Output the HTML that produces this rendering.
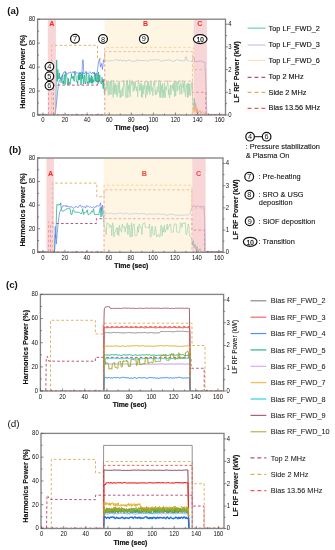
<!DOCTYPE html>
<html><head><meta charset="utf-8"><style>
html,body{margin:0;padding:0;background:#fff;}
svg{display:block;font-family:"Liberation Sans", sans-serif;filter:blur(0.45px);}
</style></head><body>
<svg width="335" height="550" viewBox="0 0 335 550">
<rect width="335" height="550" fill="#fff"/>
<polyline points="37.60,114.64 55.50,114.64 56.00,91.05 56.70,59.91 57.30,81.47 57.90,69.50 58.40,79.10 58.85,77.69 59.30,72.89 59.75,78.93 60.20,78.37 60.65,77.33 61.10,82.63 61.55,78.32 62.00,76.77 62.45,74.62 62.90,83.82 63.35,81.07 63.80,83.87 64.25,74.40 64.70,75.93 65.15,84.51 65.60,72.12 66.05,72.35 66.50,76.45 66.95,76.95 67.40,82.99 67.85,84.86 68.30,78.10 68.75,84.28 69.20,82.56 69.65,81.88 70.10,84.67 70.55,78.95 71.00,79.26 71.45,73.97 71.90,78.22 72.35,76.63 72.80,78.48 73.25,76.34 73.70,79.04 74.15,81.40 74.60,71.92 75.05,71.95 75.50,73.99 75.95,75.74 76.40,80.91 76.85,82.04 77.30,81.26 77.75,84.14 78.20,74.97 78.65,79.79 79.10,73.91 79.55,79.97 80.00,72.44 80.45,73.90 80.90,85.06 81.35,82.30 81.80,73.07 82.25,78.87 82.70,72.15 83.15,79.83 83.60,84.10 84.05,76.77 84.50,74.81 84.95,81.51 85.40,83.91 85.85,80.68 86.30,72.36 86.75,75.08 87.20,83.51 87.65,81.82 88.10,83.73 88.55,84.27 89.00,74.56 89.45,82.72 89.90,77.70 90.35,79.17 90.80,82.55 91.25,75.42 91.70,83.34 92.15,76.58 92.60,83.53 93.05,79.52 93.50,82.26 93.95,81.51 94.40,72.27 94.85,74.48 95.30,81.06 95.75,73.41 96.20,82.29 96.65,79.87 97.10,73.81 97.55,76.61 98.00,83.74 98.45,72.03 98.90,82.25 99.35,81.66 99.80,74.88 100.25,80.73 100.70,81.16 101.15,84.10 101.60,83.88 102.05,77.39 103.20,88.66 103.80,79.08 104.40,93.44 105.00,93.72 105.38,87.07 105.76,91.34 106.14,89.82 106.52,80.43 106.90,89.26 107.28,87.57 107.66,82.15 108.04,94.84 108.42,95.37 108.80,81.37 109.18,83.06 109.56,93.60 109.94,94.71 110.32,84.51 110.70,80.78 111.08,94.59 111.46,80.60 111.84,81.86 112.22,87.03 112.60,90.41 112.98,96.31 113.36,97.52 113.74,80.37 114.12,93.81 114.50,85.16 114.88,93.47 115.26,82.95 115.64,87.16 116.02,92.79 116.40,94.98 116.78,84.86 117.16,96.96 117.54,94.00 117.92,87.85 118.30,82.41 118.68,86.83 119.06,93.03 119.44,81.21 119.82,94.45 120.20,97.93 120.58,93.24 120.96,89.96 121.34,97.11 121.72,94.96 122.10,91.39 122.48,87.61 122.86,95.79 123.24,91.51 123.62,81.70 124.00,80.04 124.38,86.04 124.76,85.41 125.14,87.39 125.52,95.63 125.90,97.58 126.28,97.90 126.66,81.34 127.04,85.22 127.42,80.36 127.80,97.84 128.18,86.43 128.56,89.28 128.94,84.68 129.32,92.32 129.70,79.69 130.08,96.84 130.46,88.10 130.84,84.56 131.22,81.53 131.60,84.55 131.98,85.17 132.36,83.51 132.74,81.25 133.12,91.70 133.50,85.52 133.88,81.51 134.26,82.07 134.64,90.49 135.02,83.56 135.40,82.21 135.78,87.60 136.16,86.63 136.54,91.14 136.92,87.42 137.30,86.93 137.68,96.75 138.06,86.37 138.44,79.80 138.82,81.90 139.20,84.72 139.58,91.03 139.96,84.59 140.34,87.45 140.72,90.06 141.10,82.67 141.48,96.68 141.86,84.31 142.24,97.68 142.62,87.07 143.00,89.31 143.38,93.96 143.76,85.27 144.14,89.01 144.52,86.83 144.90,81.15 145.28,93.49 145.66,98.03 146.04,92.65 146.42,85.65 146.80,94.47 147.18,95.09 147.56,81.42 147.94,85.98 148.32,90.03 148.70,81.68 149.08,92.17 149.46,85.88 149.84,94.55 150.22,90.24 150.60,83.27 150.98,81.27 151.36,81.90 151.74,91.10 152.12,87.41 152.50,92.36 152.88,95.71 153.26,89.02 153.64,82.70 154.02,82.48 154.40,85.03 154.78,80.60 155.16,93.10 155.54,95.10 155.92,89.87 156.30,93.13 156.68,94.26 157.06,90.55 157.44,86.62 157.82,89.07 158.20,92.38 158.58,82.66 158.96,80.01 159.34,89.84 159.72,96.85 160.10,97.65 160.48,82.03 160.86,97.46 161.24,85.08 161.62,87.64 162.00,92.50 162.38,83.54 162.76,97.88 163.14,95.71 163.52,89.79 163.90,97.78 164.28,82.84 164.66,93.83 165.04,95.62 165.42,97.36 165.80,86.56 166.18,89.95 166.56,86.54 166.94,86.08 167.32,83.25 167.70,80.44 168.08,85.53 168.46,94.53 168.84,89.42 169.22,94.92 169.60,98.04 169.98,89.47 170.36,84.98 170.74,94.91 171.12,93.18 171.50,91.82 171.88,85.29 172.26,88.58 172.64,86.83 173.02,84.20 173.40,90.93 173.78,83.54 174.16,81.41 174.54,96.62 174.92,80.92 175.30,84.83 175.68,95.82 176.06,89.82 176.44,86.62 176.82,81.34 177.20,91.24 177.58,87.68 177.96,81.91 178.34,83.45 178.72,80.71 179.10,89.63 179.48,86.15 179.86,94.43 180.24,84.83 180.62,83.05 181.00,86.33 181.38,84.91 181.76,94.28 182.14,81.53 182.52,80.04 182.90,80.09 183.28,88.27 183.66,83.56 184.04,92.29 184.42,81.34 184.80,82.35 185.18,91.77 185.56,96.70 185.94,90.05 186.32,88.02 186.70,83.98 187.08,89.19 187.46,97.71 187.84,83.22 188.22,97.05 188.60,83.39 188.98,95.03 189.36,92.02 189.74,83.61 190.12,95.63 190.50,95.48 190.88,88.65 191.26,84.80 191.64,82.64 192.02,85.44 192.80,100.63 193.50,110.21 194.20,98.23 194.90,109.01 195.60,103.03 196.50,112.61 197.30,109.01 198.00,114.52 225.50,114.52" fill="none" stroke="#14a987" stroke-width="0.7" stroke-linejoin="round" />
<polyline points="37.60,114.40 55.00,114.40 56.50,103.03 58.20,86.26 59.20,81.47 61.00,77.88 63.00,74.28 64.00,71.81 64.60,72.34 65.20,71.35 65.80,73.23 66.40,73.98 67.00,73.54 67.60,73.96 68.20,72.96 68.80,72.61 69.40,72.74 70.00,71.89 70.60,72.20 71.20,73.09 71.80,73.43 72.40,72.30 73.00,71.47 73.60,72.95 74.20,72.00 74.80,71.09 75.40,71.82 76.00,72.12 76.60,73.36 77.20,73.15 77.80,73.12 78.40,72.80 79.00,74.27 79.60,72.45 80.20,72.66 80.80,73.12 81.40,72.24 82.00,72.40 82.60,59.91 83.20,59.91 83.80,73.87 84.40,73.44 85.00,73.55 85.60,72.05 86.20,71.25 86.80,72.65 87.40,72.90 88.00,74.05 88.60,73.85 89.20,72.64 89.80,71.67 90.40,72.30 91.00,73.14 91.60,74.01 92.20,73.30 92.80,71.99 93.40,73.50 94.00,72.53 94.60,74.12 95.20,74.59 95.80,74.77 96.40,73.56 97.00,73.88 97.50,69.50 98.50,62.31 99.50,58.72 100.50,67.10 101.50,63.51 102.50,69.50 103.50,59.91 104.50,62.31 105.50,60.74 106.00,60.44 106.50,61.09 107.00,60.44 107.50,61.07 108.00,60.77 108.50,61.03 109.00,61.24 109.50,60.83 110.00,60.77 110.50,60.84 111.00,60.81 111.50,60.62 112.00,61.09 112.50,61.26 113.00,60.68 113.50,60.38 114.00,60.40 114.50,59.91 115.00,60.04 115.50,59.72 116.00,60.53 116.50,60.15 117.00,59.85 117.50,59.55 118.00,60.32 118.50,60.71 119.00,59.95 119.50,60.67 120.00,59.82 120.50,59.56 121.00,60.61 121.50,60.97 122.00,60.39 122.50,60.82 123.00,61.30 123.50,60.39 124.00,60.57 124.50,60.09 125.00,60.89 125.50,60.85 126.00,60.39 126.50,61.20 127.00,61.32 127.50,60.64 128.00,59.93 128.50,59.49 129.00,60.60 129.50,60.55 130.00,60.13 130.50,60.32 131.00,60.13 131.50,60.80 132.00,61.33 132.50,61.53 133.00,61.74 133.50,61.05 134.00,60.76 134.50,60.53 135.00,61.07 135.50,61.28 136.00,61.36 136.50,60.41 137.00,59.70 137.50,59.44 138.00,60.61 138.50,61.24 139.00,60.18 139.50,60.40 140.00,60.05 140.50,60.55 141.00,60.58 141.50,60.52 142.00,60.63 142.50,60.41 143.00,61.22 143.50,60.55 144.00,60.00 144.50,60.75 145.00,60.70 145.50,60.24 146.00,60.52 146.50,60.99 147.00,61.27 147.50,60.87 148.00,61.45 148.50,60.37 149.00,59.97 149.50,59.92 150.00,59.66 150.50,59.88 151.00,60.35 151.50,60.28 152.00,60.39 152.50,59.70 153.00,59.63 153.50,60.45 154.00,59.84 154.50,59.80 155.00,59.72 155.50,59.63 156.00,60.22 156.50,59.75 157.00,59.54 157.50,59.72 158.00,59.70 158.50,59.70 159.00,60.25 159.50,60.04 160.00,60.94 160.50,60.97 161.00,60.79 161.50,61.42 162.00,61.19 162.50,60.64 163.00,60.38 163.50,60.86 164.00,60.00 164.50,60.00 165.00,60.51 165.50,60.26 166.00,60.28 166.50,60.35 167.00,60.60 167.50,59.78 168.00,59.93 168.50,59.91 169.00,59.80 169.50,59.41 170.00,60.71 170.50,60.43 171.00,60.10 171.50,60.69 172.00,60.75 172.50,61.33 173.00,61.40 173.50,61.15 174.00,61.46 174.50,61.37 175.00,60.31 175.50,60.33 176.00,60.41 176.50,59.74 177.00,60.02 177.50,59.50 178.00,59.79 178.50,59.67 179.00,60.75 179.50,60.48 180.00,60.09 180.50,61.01 181.00,60.09 181.50,60.83 182.00,60.72 182.50,61.13 183.00,60.83 183.50,60.50 184.00,61.19 184.50,60.16 185.00,60.46 185.50,56.92 186.00,56.92 186.50,56.92 187.00,60.91 187.50,60.47 188.00,60.40 188.50,60.79 189.00,60.32 189.50,60.73 190.00,61.38 190.50,61.34 191.00,61.64 191.50,61.61 192.00,60.67 192.50,60.76 193.00,56.92 193.50,56.92 194.00,56.92 194.50,61.14 195.00,60.73 195.50,61.89 196.00,61.17 196.50,61.55 197.00,61.67 197.50,60.95 198.00,61.73 198.50,61.68 199.00,61.02 199.50,61.02 200.00,61.41 200.50,60.82 201.00,60.77 201.50,61.08 202.00,61.99 202.50,61.66 203.00,61.75 203.50,62.19 204.00,62.65 204.50,62.14 205.00,62.51 206.20,91.05 206.80,114.40 225.50,114.40" fill="none" stroke="#5b79f0" stroke-width="0.7" stroke-linejoin="round" />
<polyline points="192.00,114.52 193.20,107.81 194.00,112.61 195.00,105.42 196.00,111.41 197.00,107.81 198.50,112.61 200.00,110.21 201.00,113.80 202.00,111.41 204.00,113.20 206.00,114.52" fill="none" stroke="#f09a30" stroke-width="0.9" stroke-linejoin="round" />
<polyline points="37.60,114.52 51.60,114.52 51.60,45.31 97.50,45.31 97.50,58.96 104.60,58.96 104.60,47.40 193.30,47.40 193.30,69.60 205.80,69.60 205.80,114.52 225.50,114.52" fill="none" stroke="#e0b058" stroke-width="0.95" stroke-linejoin="round" stroke-dasharray="2.6,2.2" stroke-linecap="butt"/>
<polyline points="53.40,114.52 53.40,85.10 97.50,85.10 97.50,81.20 192.40,81.20 192.40,92.30 205.80,92.30 205.80,114.52" fill="none" stroke="#bb4a78" stroke-width="0.95" stroke-linejoin="round" stroke-dasharray="2.6,2.2" stroke-linecap="butt"/>
<polyline points="48.50,114.52 48.50,82.67" fill="none" stroke="#f45656" stroke-width="0.95" stroke-linejoin="round" stroke-dasharray="2.6,2.2" stroke-linecap="butt"/>
<polyline points="37.60,114.64 104.90,114.64 104.90,51.60 192.40,51.60 192.40,114.64 225.50,114.64" fill="none" stroke="#f45656" stroke-width="0.95" stroke-linejoin="round" stroke-dasharray="2.6,2.2" stroke-linecap="butt"/>
<rect x="47.80" y="19.20" width="8.10" height="95.80" fill="#f3b9bb" opacity="0.6"/>
<rect x="104.60" y="19.20" width="89.20" height="95.80" fill="#fdf0cf" opacity="0.6"/>
<rect x="193.80" y="19.20" width="13.10" height="95.80" fill="#f3b9bb" opacity="0.6"/>
<text x="51.90" y="25.90" font-size="7.0" text-anchor="middle" font-weight="bold" fill="#f52525" >A</text>
<text x="145.60" y="25.90" font-size="7.0" text-anchor="middle" font-weight="bold" fill="#f52525" >B</text>
<text x="199.80" y="25.90" font-size="7.0" text-anchor="middle" font-weight="bold" fill="#f52525" >C</text>
<rect x="37.60" y="19.20" width="187.90" height="95.80" fill="none" stroke="#858585" stroke-width="1.35"/>
<line x1="37.60" y1="115.00" x2="40.10" y2="115.00" stroke="#444" stroke-width="0.6" />
<text transform="translate(35.30,116.80) scale(0.86,1)" x="0" y="0" font-size="6.9" text-anchor="end" fill="#111">0</text>
<line x1="37.60" y1="103.03" x2="39.10" y2="103.03" stroke="#444" stroke-width="0.6" />
<line x1="37.60" y1="91.05" x2="40.10" y2="91.05" stroke="#444" stroke-width="0.6" />
<text transform="translate(35.30,92.85) scale(0.86,1)" x="0" y="0" font-size="6.9" text-anchor="end" fill="#111">20</text>
<line x1="37.60" y1="79.08" x2="39.10" y2="79.08" stroke="#444" stroke-width="0.6" />
<line x1="37.60" y1="67.10" x2="40.10" y2="67.10" stroke="#444" stroke-width="0.6" />
<text transform="translate(35.30,68.90) scale(0.86,1)" x="0" y="0" font-size="6.9" text-anchor="end" fill="#111">40</text>
<line x1="37.60" y1="55.12" x2="39.10" y2="55.12" stroke="#444" stroke-width="0.6" />
<line x1="37.60" y1="43.15" x2="40.10" y2="43.15" stroke="#444" stroke-width="0.6" />
<text transform="translate(35.30,44.95) scale(0.86,1)" x="0" y="0" font-size="6.9" text-anchor="end" fill="#111">60</text>
<line x1="37.60" y1="31.17" x2="39.10" y2="31.17" stroke="#444" stroke-width="0.6" />
<line x1="37.60" y1="19.20" x2="40.10" y2="19.20" stroke="#444" stroke-width="0.6" />
<text transform="translate(35.30,21.00) scale(0.86,1)" x="0" y="0" font-size="6.9" text-anchor="end" fill="#111">80</text>
<line x1="43.00" y1="115.00" x2="43.00" y2="112.50" stroke="#444" stroke-width="0.6" />
<text transform="translate(43.00,121.60) scale(0.86,1)" x="0" y="0" font-size="6.9" text-anchor="middle" fill="#111">0</text>
<line x1="54.04" y1="115.00" x2="54.04" y2="113.50" stroke="#444" stroke-width="0.6" />
<line x1="65.08" y1="115.00" x2="65.08" y2="112.50" stroke="#444" stroke-width="0.6" />
<text transform="translate(65.08,121.60) scale(0.86,1)" x="0" y="0" font-size="6.9" text-anchor="middle" fill="#111">20</text>
<line x1="76.12" y1="115.00" x2="76.12" y2="113.50" stroke="#444" stroke-width="0.6" />
<line x1="87.16" y1="115.00" x2="87.16" y2="112.50" stroke="#444" stroke-width="0.6" />
<text transform="translate(87.16,121.60) scale(0.86,1)" x="0" y="0" font-size="6.9" text-anchor="middle" fill="#111">40</text>
<line x1="98.20" y1="115.00" x2="98.20" y2="113.50" stroke="#444" stroke-width="0.6" />
<line x1="109.24" y1="115.00" x2="109.24" y2="112.50" stroke="#444" stroke-width="0.6" />
<text transform="translate(109.24,121.60) scale(0.86,1)" x="0" y="0" font-size="6.9" text-anchor="middle" fill="#111">60</text>
<line x1="120.28" y1="115.00" x2="120.28" y2="113.50" stroke="#444" stroke-width="0.6" />
<line x1="131.32" y1="115.00" x2="131.32" y2="112.50" stroke="#444" stroke-width="0.6" />
<text transform="translate(131.32,121.60) scale(0.86,1)" x="0" y="0" font-size="6.9" text-anchor="middle" fill="#111">80</text>
<line x1="142.36" y1="115.00" x2="142.36" y2="113.50" stroke="#444" stroke-width="0.6" />
<line x1="153.40" y1="115.00" x2="153.40" y2="112.50" stroke="#444" stroke-width="0.6" />
<text transform="translate(153.40,121.60) scale(0.86,1)" x="0" y="0" font-size="6.9" text-anchor="middle" fill="#111">100</text>
<line x1="164.44" y1="115.00" x2="164.44" y2="113.50" stroke="#444" stroke-width="0.6" />
<line x1="175.48" y1="115.00" x2="175.48" y2="112.50" stroke="#444" stroke-width="0.6" />
<text transform="translate(175.48,121.60) scale(0.86,1)" x="0" y="0" font-size="6.9" text-anchor="middle" fill="#111">120</text>
<line x1="186.52" y1="115.00" x2="186.52" y2="113.50" stroke="#444" stroke-width="0.6" />
<line x1="197.56" y1="115.00" x2="197.56" y2="112.50" stroke="#444" stroke-width="0.6" />
<text transform="translate(197.56,121.60) scale(0.86,1)" x="0" y="0" font-size="6.9" text-anchor="middle" fill="#111">140</text>
<line x1="208.60" y1="115.00" x2="208.60" y2="113.50" stroke="#444" stroke-width="0.6" />
<line x1="219.64" y1="115.00" x2="219.64" y2="112.50" stroke="#444" stroke-width="0.6" />
<text transform="translate(219.64,121.60) scale(0.86,1)" x="0" y="0" font-size="6.9" text-anchor="middle" fill="#111">160</text>
<line x1="225.50" y1="115.00" x2="228.00" y2="115.00" stroke="#444" stroke-width="0.6" />
<text transform="translate(228.30,116.90) scale(0.86,1)" x="0" y="0" font-size="6.9" text-anchor="start" fill="#111">0</text>
<line x1="225.50" y1="103.65" x2="227.00" y2="103.65" stroke="#444" stroke-width="0.6" />
<line x1="225.50" y1="92.30" x2="228.00" y2="92.30" stroke="#444" stroke-width="0.6" />
<text transform="translate(228.30,94.20) scale(0.86,1)" x="0" y="0" font-size="6.9" text-anchor="start" fill="#111">1</text>
<line x1="225.50" y1="80.95" x2="227.00" y2="80.95" stroke="#444" stroke-width="0.6" />
<line x1="225.50" y1="69.60" x2="228.00" y2="69.60" stroke="#444" stroke-width="0.6" />
<text transform="translate(228.30,71.50) scale(0.86,1)" x="0" y="0" font-size="6.9" text-anchor="start" fill="#111">2</text>
<line x1="225.50" y1="58.25" x2="227.00" y2="58.25" stroke="#444" stroke-width="0.6" />
<line x1="225.50" y1="46.90" x2="228.00" y2="46.90" stroke="#444" stroke-width="0.6" />
<text transform="translate(228.30,48.80) scale(0.86,1)" x="0" y="0" font-size="6.9" text-anchor="start" fill="#111">3</text>
<line x1="225.50" y1="35.55" x2="227.00" y2="35.55" stroke="#444" stroke-width="0.6" />
<line x1="225.50" y1="24.20" x2="228.00" y2="24.20" stroke="#444" stroke-width="0.6" />
<text transform="translate(228.30,26.10) scale(0.86,1)" x="0" y="0" font-size="6.9" text-anchor="start" fill="#111">4</text>
<text x="7.30" y="13.50" font-size="9.6" text-anchor="start" font-weight="bold" fill="#111" >(a)</text>
<text x="22.5" y="71.75" font-size="7.2" font-weight="bold" text-anchor="middle" fill="#111" stroke="#111" stroke-width="0.15" transform="rotate(-90 22.5 71.75)" dominant-baseline="central">Harmonics Power (%)</text>
<text x="236.5" y="71.90" font-size="7.2" font-weight="bold" text-anchor="middle" fill="#111" stroke="#111" stroke-width="0.15" transform="rotate(-90 236.5 71.90)" dominant-baseline="central">LF RF Power (kW)</text>
<text x="131.60" y="129.80" font-size="6.9" text-anchor="middle" font-weight="bold" fill="#111" stroke="#111" stroke-width="0.2">Time (sec)</text>
<circle cx="75.00" cy="38.80" r="4.4" fill="#fff" stroke="#111" stroke-width="1.2"/>
<text x="75.00" y="41.30" font-size="7.4" text-anchor="middle" font-weight="normal" fill="#111" >7</text>
<circle cx="103.00" cy="39.00" r="4.4" fill="#fff" stroke="#111" stroke-width="1.2"/>
<text x="103.00" y="41.50" font-size="7.4" text-anchor="middle" font-weight="normal" fill="#111" >8</text>
<circle cx="143.90" cy="38.90" r="4.4" fill="#fff" stroke="#111" stroke-width="1.2"/>
<text x="143.90" y="41.40" font-size="7.4" text-anchor="middle" font-weight="normal" fill="#111" >9</text>
<ellipse cx="200.20" cy="39.10" rx="6.8" ry="4.5" fill="#fff" stroke="#111" stroke-width="1.2"/>
<text x="200.30" y="41.80" font-size="7.6" text-anchor="middle" font-weight="normal" fill="#111" stroke="#111" stroke-width="0.25" textLength="7.0" lengthAdjust="spacingAndGlyphs">10</text>
<circle cx="49.40" cy="66.60" r="4.3" fill="#fff" stroke="#111" stroke-width="1.2"/>
<text x="49.40" y="69.10" font-size="7.4" text-anchor="middle" font-weight="normal" fill="#111" >4</text>
<circle cx="49.40" cy="76.20" r="4.3" fill="#fff" stroke="#111" stroke-width="1.2"/>
<text x="49.40" y="78.70" font-size="7.4" text-anchor="middle" font-weight="normal" fill="#111" >5</text>
<circle cx="49.40" cy="85.60" r="4.3" fill="#fff" stroke="#111" stroke-width="1.2"/>
<text x="49.40" y="88.10" font-size="7.4" text-anchor="middle" font-weight="normal" fill="#111" >6</text>
<polyline points="37.60,251.95 54.50,251.95 55.20,234.62 55.90,238.16 56.40,216.94 56.80,204.56 58.50,205.15 59.20,203.97 60.00,205.15 60.80,202.79 61.30,209.87 62.00,211.04 62.90,211.04 63.80,211.04 64.70,209.87 65.60,209.87 66.50,208.69 67.40,208.69 68.30,208.69 69.20,208.69 70.10,208.69 71.00,214.58 71.90,214.58 72.80,209.87 73.70,209.87 74.60,212.22 75.50,212.22 76.40,212.22 77.30,212.22 78.20,212.22 79.10,212.22 80.00,213.40 80.90,213.40 81.80,213.40 82.70,208.69 83.60,214.58 84.50,212.22 85.40,212.22 86.30,212.22 87.20,209.87 88.10,214.58 89.00,214.58 89.90,213.40 90.80,213.40 91.70,211.04 92.60,212.22 93.50,208.69 94.40,214.58 95.30,214.58 96.20,214.58 97.10,214.58 98.00,214.58 98.90,214.58 100.30,207.51 101.00,216.94 101.80,207.51 102.50,214.58 103.60,216.94 104.30,226.37 105.00,228.73 105.50,229.90 106.20,234.62 106.90,222.83 107.60,224.01 108.30,224.01 109.00,224.01 109.70,227.55 110.40,225.19 111.10,225.19 111.80,235.80 112.50,222.83 113.20,225.19 113.90,236.98 114.60,232.26 115.30,232.26 116.00,229.90 116.70,227.55 117.40,234.62 118.10,227.55 118.80,235.80 119.50,225.19 120.20,229.90 120.90,229.90 121.60,232.26 122.30,224.01 123.00,227.55 123.70,227.55 124.40,226.37 125.10,232.26 125.80,227.55 126.50,227.55 127.20,222.83 127.90,234.62 128.60,225.19 129.30,225.19 130.00,236.98 130.70,236.98 131.40,222.83 132.10,236.98 132.80,226.37 133.50,224.01 134.20,224.01 134.90,235.80 135.60,235.80 136.30,235.80 137.00,234.62 137.70,226.37 138.40,232.26 139.10,224.01 139.80,225.19 140.50,227.55 141.20,227.55 141.90,234.62 142.60,224.01 143.30,224.01 144.00,222.83 144.70,222.83 145.40,227.55 146.10,227.55 146.80,227.55 147.50,227.55 148.20,227.55 148.90,227.55 149.60,224.01 150.30,236.98 151.00,236.98 151.70,226.37 152.40,226.37 153.10,234.62 153.80,234.62 154.50,234.62 155.20,226.37 155.90,229.90 156.60,236.98 157.30,235.80 158.00,234.62 158.70,234.62 159.40,236.98 160.10,236.98 160.80,225.19 161.50,225.19 162.20,235.80 162.90,227.55 163.60,232.26 164.30,225.19 165.00,232.26 165.70,229.90 166.40,229.90 167.10,224.01 167.80,229.90 168.50,226.37 169.20,226.37 169.90,224.01 170.60,224.01 171.30,232.26 172.00,232.26 172.70,232.26 173.40,232.26 174.10,224.01 174.80,224.01 175.50,224.01 176.20,224.01 176.90,232.26 177.60,232.26 178.30,232.26 179.00,232.26 179.70,232.26 180.40,222.83 181.10,222.83 181.80,227.55 182.50,224.01 183.20,222.83 183.90,224.01 184.60,222.83 185.30,222.83 186.00,234.62 186.70,234.62 187.40,229.90 188.10,224.01 188.80,225.19 189.50,235.80 190.20,235.80 191.50,238.16 192.30,245.23 193.20,240.51 194.00,247.59 195.00,244.05 196.00,249.94 197.00,246.41 198.50,251.12 200.00,248.76 201.00,251.83 223.00,251.83" fill="none" stroke="#14a987" stroke-width="0.7" stroke-linejoin="round" />
<polyline points="37.60,251.71 54.60,251.71 55.20,226.37 55.80,235.80 56.30,244.05 57.20,233.44 58.30,221.65 59.60,212.22 61.50,208.69 62.50,206.32 63.20,205.41 63.90,206.43 64.60,205.66 65.30,206.26 66.00,205.20 66.70,206.90 67.40,205.85 68.10,206.96 68.80,206.68 69.50,206.56 70.20,207.53 70.90,206.20 71.60,206.88 72.30,207.29 73.00,208.20 73.70,208.10 74.40,207.58 75.10,206.56 75.80,206.96 76.50,206.27 77.20,207.50 77.90,207.43 78.60,207.19 79.30,205.62 80.00,205.06 80.70,205.23 81.40,207.14 82.10,207.26 82.80,206.39 83.50,207.20 84.20,206.76 84.90,206.80 85.60,208.09 86.30,206.09 87.00,205.43 87.70,206.72 88.40,206.33 89.10,207.01 89.80,207.19 90.50,206.82 91.20,207.29 91.90,207.46 92.60,207.41 93.30,206.60 94.00,207.27 94.70,207.84 95.40,206.67 96.10,207.11 96.80,205.63 97.50,205.83 98.20,205.49 98.90,206.40 99.60,205.54 100.50,202.79 101.50,209.87 102.50,205.15 103.50,213.40 104.50,215.76 105.50,212.22 106.50,213.66 107.20,213.86 107.90,214.02 108.60,213.42 109.30,213.09 110.00,213.56 110.70,213.54 111.40,213.02 112.10,213.06 112.80,213.68 113.50,213.84 114.20,214.01 114.90,214.14 115.60,213.88 116.30,214.15 117.00,213.30 117.70,213.46 118.40,213.45 119.10,213.29 119.80,213.08 120.50,212.92 121.20,213.36 121.90,213.65 122.60,213.71 123.30,214.21 124.00,214.02 124.70,213.58 125.40,213.03 126.10,212.99 126.80,213.13 127.50,213.27 128.20,214.05 128.90,214.07 129.60,214.08 130.30,213.73 131.00,214.20 131.70,214.13 132.40,213.94 133.10,213.53 133.80,213.29 134.50,213.43 135.20,214.04 135.90,213.64 136.60,213.28 137.30,213.53 138.00,213.89 138.70,213.91 139.40,214.35 140.10,213.90 140.80,213.36 141.50,213.66 142.20,213.58 142.90,213.40 143.60,214.08 144.30,213.54 145.00,213.65 145.70,214.22 146.40,214.65 147.10,214.69 147.80,214.32 148.50,214.00 149.20,214.28 149.90,213.73 150.60,214.12 151.30,214.21 152.00,214.66 152.70,213.89 153.40,214.51 154.10,213.91 154.80,214.05 155.50,214.11 156.20,214.14 156.90,214.52 157.60,213.95 158.30,213.58 159.00,213.61 159.70,213.89 160.40,214.60 161.10,214.13 161.80,214.54 162.50,214.03 163.20,214.56 163.90,214.44 164.60,214.09 165.30,214.68 166.00,214.56 166.70,215.06 167.40,215.37 168.10,215.36 168.80,214.41 169.50,214.00 170.20,214.13 170.90,214.62 171.60,214.44 172.30,214.29 173.00,214.63 173.70,214.57 174.40,214.29 175.10,215.09 175.80,215.28 176.50,215.07 177.20,215.36 177.90,215.22 178.60,214.94 179.30,215.28 180.00,215.05 180.70,215.24 181.40,214.99 182.10,215.15 182.80,214.87 183.50,215.45 184.20,215.00 184.90,215.41 185.60,214.66 186.30,214.71 187.00,214.90 187.70,215.07 188.40,214.92 190.00,213.40 191.00,209.87 192.00,206.92 193.00,205.74 194.00,206.30 194.70,206.20 195.40,206.21 196.10,206.58 196.80,205.86 197.50,206.09 198.20,206.06 198.90,206.69 199.60,206.66 200.30,206.47 201.00,205.99 201.70,206.53 202.40,206.53 203.10,206.66 203.80,205.99 204.60,216.94 205.10,251.71 223.00,251.71" fill="none" stroke="#5b79f0" stroke-width="0.7" stroke-linejoin="round" />
<polyline points="37.60,251.83 52.40,251.83 52.40,183.10 96.80,183.10 96.80,196.70 104.20,196.70 104.20,185.20 191.80,185.20 191.80,207.90 204.50,207.90 204.50,251.83 223.00,251.83" fill="none" stroke="#e0b058" stroke-width="0.95" stroke-linejoin="round" stroke-dasharray="2.6,2.2" stroke-linecap="butt"/>
<polyline points="50.60,251.83 50.60,226.37 52.00,222.83 54.60,223.50 96.40,223.50 96.40,218.70 191.80,218.70 191.80,230.10 204.50,230.10 204.50,251.83" fill="none" stroke="#bb4a78" stroke-width="0.95" stroke-linejoin="round" stroke-dasharray="2.6,2.2" stroke-linecap="butt"/>
<polyline points="48.60,251.83 48.60,221.65" fill="none" stroke="#f45656" stroke-width="0.95" stroke-linejoin="round" stroke-dasharray="2.6,2.2" stroke-linecap="butt"/>
<polyline points="37.60,251.95 104.20,251.95 104.20,189.80 191.80,189.80 191.80,251.95 223.00,251.95" fill="none" stroke="#f45656" stroke-width="0.95" stroke-linejoin="round" stroke-dasharray="2.6,2.2" stroke-linecap="butt"/>
<rect x="46.50" y="158.00" width="7.50" height="94.30" fill="#f3b9bb" opacity="0.6"/>
<rect x="103.60" y="158.00" width="88.70" height="94.30" fill="#fdf0cf" opacity="0.6"/>
<rect x="192.30" y="158.00" width="13.30" height="94.30" fill="#f3b9bb" opacity="0.6"/>
<text x="50.60" y="176.40" font-size="7.2" text-anchor="middle" font-weight="bold" fill="#f52525" >A</text>
<text x="144.30" y="176.40" font-size="7.2" text-anchor="middle" font-weight="bold" fill="#f04545" >B</text>
<text x="198.50" y="176.40" font-size="7.2" text-anchor="middle" font-weight="bold" fill="#f04545" >C</text>
<rect x="37.60" y="158.00" width="185.40" height="94.30" fill="none" stroke="#858585" stroke-width="1.35"/>
<line x1="37.60" y1="252.30" x2="40.10" y2="252.30" stroke="#444" stroke-width="0.6" />
<text transform="translate(35.30,254.10) scale(0.86,1)" x="0" y="0" font-size="6.9" text-anchor="end" fill="#111">0</text>
<line x1="37.60" y1="240.51" x2="39.10" y2="240.51" stroke="#444" stroke-width="0.6" />
<line x1="37.60" y1="228.73" x2="40.10" y2="228.73" stroke="#444" stroke-width="0.6" />
<text transform="translate(35.30,230.53) scale(0.86,1)" x="0" y="0" font-size="6.9" text-anchor="end" fill="#111">20</text>
<line x1="37.60" y1="216.94" x2="39.10" y2="216.94" stroke="#444" stroke-width="0.6" />
<line x1="37.60" y1="205.15" x2="40.10" y2="205.15" stroke="#444" stroke-width="0.6" />
<text transform="translate(35.30,206.95) scale(0.86,1)" x="0" y="0" font-size="6.9" text-anchor="end" fill="#111">40</text>
<line x1="37.60" y1="193.36" x2="39.10" y2="193.36" stroke="#444" stroke-width="0.6" />
<line x1="37.60" y1="181.57" x2="40.10" y2="181.57" stroke="#444" stroke-width="0.6" />
<text transform="translate(35.30,183.38) scale(0.86,1)" x="0" y="0" font-size="6.9" text-anchor="end" fill="#111">60</text>
<line x1="37.60" y1="169.79" x2="39.10" y2="169.79" stroke="#444" stroke-width="0.6" />
<line x1="37.60" y1="158.00" x2="40.10" y2="158.00" stroke="#444" stroke-width="0.6" />
<text transform="translate(35.30,159.80) scale(0.86,1)" x="0" y="0" font-size="6.9" text-anchor="end" fill="#111">80</text>
<line x1="42.90" y1="252.30" x2="42.90" y2="249.80" stroke="#444" stroke-width="0.6" />
<text transform="translate(42.90,260.00) scale(0.86,1)" x="0" y="0" font-size="6.9" text-anchor="middle" fill="#111">0</text>
<line x1="53.90" y1="252.30" x2="53.90" y2="250.80" stroke="#444" stroke-width="0.6" />
<line x1="64.90" y1="252.30" x2="64.90" y2="249.80" stroke="#444" stroke-width="0.6" />
<text transform="translate(64.90,260.00) scale(0.86,1)" x="0" y="0" font-size="6.9" text-anchor="middle" fill="#111">20</text>
<line x1="75.90" y1="252.30" x2="75.90" y2="250.80" stroke="#444" stroke-width="0.6" />
<line x1="86.90" y1="252.30" x2="86.90" y2="249.80" stroke="#444" stroke-width="0.6" />
<text transform="translate(86.90,260.00) scale(0.86,1)" x="0" y="0" font-size="6.9" text-anchor="middle" fill="#111">40</text>
<line x1="97.90" y1="252.30" x2="97.90" y2="250.80" stroke="#444" stroke-width="0.6" />
<line x1="108.90" y1="252.30" x2="108.90" y2="249.80" stroke="#444" stroke-width="0.6" />
<text transform="translate(108.90,260.00) scale(0.86,1)" x="0" y="0" font-size="6.9" text-anchor="middle" fill="#111">60</text>
<line x1="119.90" y1="252.30" x2="119.90" y2="250.80" stroke="#444" stroke-width="0.6" />
<line x1="130.90" y1="252.30" x2="130.90" y2="249.80" stroke="#444" stroke-width="0.6" />
<text transform="translate(130.90,260.00) scale(0.86,1)" x="0" y="0" font-size="6.9" text-anchor="middle" fill="#111">80</text>
<line x1="141.90" y1="252.30" x2="141.90" y2="250.80" stroke="#444" stroke-width="0.6" />
<line x1="152.90" y1="252.30" x2="152.90" y2="249.80" stroke="#444" stroke-width="0.6" />
<text transform="translate(152.90,260.00) scale(0.86,1)" x="0" y="0" font-size="6.9" text-anchor="middle" fill="#111">100</text>
<line x1="163.90" y1="252.30" x2="163.90" y2="250.80" stroke="#444" stroke-width="0.6" />
<line x1="174.90" y1="252.30" x2="174.90" y2="249.80" stroke="#444" stroke-width="0.6" />
<text transform="translate(174.90,260.00) scale(0.86,1)" x="0" y="0" font-size="6.9" text-anchor="middle" fill="#111">120</text>
<line x1="185.90" y1="252.30" x2="185.90" y2="250.80" stroke="#444" stroke-width="0.6" />
<line x1="196.90" y1="252.30" x2="196.90" y2="249.80" stroke="#444" stroke-width="0.6" />
<text transform="translate(196.90,260.00) scale(0.86,1)" x="0" y="0" font-size="6.9" text-anchor="middle" fill="#111">140</text>
<line x1="207.90" y1="252.30" x2="207.90" y2="250.80" stroke="#444" stroke-width="0.6" />
<line x1="218.90" y1="252.30" x2="218.90" y2="249.80" stroke="#444" stroke-width="0.6" />
<text transform="translate(218.90,260.00) scale(0.86,1)" x="0" y="0" font-size="6.9" text-anchor="middle" fill="#111">160</text>
<line x1="223.00" y1="252.30" x2="225.50" y2="252.30" stroke="#444" stroke-width="0.6" />
<text transform="translate(225.80,254.20) scale(0.86,1)" x="0" y="0" font-size="6.9" text-anchor="start" fill="#111">0</text>
<line x1="223.00" y1="241.20" x2="224.50" y2="241.20" stroke="#444" stroke-width="0.6" />
<line x1="223.00" y1="230.10" x2="225.50" y2="230.10" stroke="#444" stroke-width="0.6" />
<text transform="translate(225.80,232.00) scale(0.86,1)" x="0" y="0" font-size="6.9" text-anchor="start" fill="#111">1</text>
<line x1="223.00" y1="219.00" x2="224.50" y2="219.00" stroke="#444" stroke-width="0.6" />
<line x1="223.00" y1="207.90" x2="225.50" y2="207.90" stroke="#444" stroke-width="0.6" />
<text transform="translate(225.80,209.80) scale(0.86,1)" x="0" y="0" font-size="6.9" text-anchor="start" fill="#111">2</text>
<line x1="223.00" y1="196.80" x2="224.50" y2="196.80" stroke="#444" stroke-width="0.6" />
<line x1="223.00" y1="185.70" x2="225.50" y2="185.70" stroke="#444" stroke-width="0.6" />
<text transform="translate(225.80,187.60) scale(0.86,1)" x="0" y="0" font-size="6.9" text-anchor="start" fill="#111">3</text>
<line x1="223.00" y1="174.60" x2="224.50" y2="174.60" stroke="#444" stroke-width="0.6" />
<line x1="223.00" y1="163.50" x2="225.50" y2="163.50" stroke="#444" stroke-width="0.6" />
<text transform="translate(225.80,165.40) scale(0.86,1)" x="0" y="0" font-size="6.9" text-anchor="start" fill="#111">4</text>
<text x="9.00" y="152.80" font-size="9.6" text-anchor="start" font-weight="bold" fill="#111" >(b)</text>
<text x="22.65" y="209.85" font-size="7.15" font-weight="bold" text-anchor="middle" fill="#111" stroke="#111" stroke-width="0.15" transform="rotate(-90 22.65 209.85)" dominant-baseline="central">Harmonics Power (%)</text>
<text x="235.05" y="209.50" font-size="7.05" font-weight="bold" text-anchor="middle" fill="#111" stroke="#111" stroke-width="0.15" transform="rotate(-90 235.05 209.50)" dominant-baseline="central">LF RF Power (kW)</text>
<text x="131.30" y="267.50" font-size="6.9" text-anchor="middle" font-weight="bold" fill="#111" stroke="#111" stroke-width="0.2">Time (sec)</text>
<line x1="247.60" y1="28.20" x2="265.60" y2="28.20" stroke="#86dcc4" stroke-width="1.5" />
<text x="268.60" y="30.60" font-size="7.32" text-anchor="start" font-weight="normal" fill="#111" stroke="#111" stroke-width="0.12">Top LF_FWD_2</text>
<line x1="247.60" y1="45.00" x2="265.60" y2="45.00" stroke="#b8bef6" stroke-width="1.05" />
<text x="268.60" y="47.10" font-size="7.32" text-anchor="start" font-weight="normal" fill="#111" stroke="#111" stroke-width="0.12">Top LF_FWD_3</text>
<line x1="247.60" y1="60.40" x2="265.60" y2="60.40" stroke="#fadcb0" stroke-width="1.05" />
<text x="268.60" y="63.00" font-size="7.32" text-anchor="start" font-weight="normal" fill="#111" stroke="#111" stroke-width="0.12">Top LF_FWD_6</text>
<line x1="247.60" y1="77.30" x2="266.10" y2="77.30" stroke="#bb4a78" stroke-width="1.2" stroke-dasharray="3.9,3.0"/>
<text x="268.60" y="78.90" font-size="7.32" text-anchor="start" font-weight="normal" fill="#111" stroke="#111" stroke-width="0.12">Top 2 MHz</text>
<line x1="247.60" y1="92.30" x2="266.10" y2="92.30" stroke="#e0b058" stroke-width="1.2" stroke-dasharray="3.9,3.0"/>
<text x="268.60" y="94.50" font-size="7.32" text-anchor="start" font-weight="normal" fill="#111" stroke="#111" stroke-width="0.12">Side 2 MHz</text>
<line x1="247.60" y1="108.40" x2="266.10" y2="108.40" stroke="#f45656" stroke-width="1.2" stroke-dasharray="3.9,3.0"/>
<text x="268.60" y="110.40" font-size="7.32" text-anchor="start" font-weight="normal" fill="#111" stroke="#111" stroke-width="0.12">Bias 13.56 MHz</text>
<circle cx="250.10" cy="136.70" r="4.3" fill="#fff" stroke="#111" stroke-width="1.2"/>
<text x="250.10" y="139.20" font-size="7.3" text-anchor="middle" font-weight="normal" fill="#111" >4</text>
<circle cx="266.60" cy="136.70" r="4.3" fill="#fff" stroke="#111" stroke-width="1.2"/>
<text x="266.60" y="139.20" font-size="7.3" text-anchor="middle" font-weight="normal" fill="#111" >6</text>
<line x1="254.50" y1="136.70" x2="262.20" y2="136.70" stroke="#111" stroke-width="1.0" />
<text x="245.60" y="149.20" font-size="7.4" text-anchor="start" font-weight="normal" fill="#111" stroke="#111" stroke-width="0.1">: Pressure stabilization</text>
<text x="245.80" y="157.70" font-size="7.4" text-anchor="start" font-weight="normal" fill="#111" stroke="#111" stroke-width="0.1">&amp; Plasma On</text>
<circle cx="249.20" cy="176.70" r="4.4" fill="#fff" stroke="#111" stroke-width="1.2"/>
<text x="249.20" y="179.20" font-size="7.3" text-anchor="middle" font-weight="normal" fill="#111" >7</text>
<text x="258.40" y="179.10" font-size="7.4" text-anchor="start" font-weight="normal" fill="#111" stroke="#111" stroke-width="0.1">: Pre-heating</text>
<circle cx="249.40" cy="194.70" r="4.4" fill="#fff" stroke="#111" stroke-width="1.2"/>
<text x="249.40" y="197.20" font-size="7.3" text-anchor="middle" font-weight="normal" fill="#111" >8</text>
<text x="258.40" y="197.10" font-size="7.4" text-anchor="start" font-weight="normal" fill="#111" stroke="#111" stroke-width="0.1">: SRO &amp; USG</text>
<text x="258.80" y="205.20" font-size="7.4" text-anchor="start" font-weight="normal" fill="#111" stroke="#111" stroke-width="0.1">deposition</text>
<circle cx="249.70" cy="221.20" r="4.4" fill="#fff" stroke="#111" stroke-width="1.2"/>
<text x="249.70" y="223.70" font-size="7.3" text-anchor="middle" font-weight="normal" fill="#111" >9</text>
<text x="258.60" y="223.60" font-size="7.4" text-anchor="start" font-weight="normal" fill="#111" stroke="#111" stroke-width="0.1">: SiOF deposition</text>
<ellipse cx="250.20" cy="241.80" rx="6.8" ry="4.5" fill="#fff" stroke="#111" stroke-width="1.2"/>
<text x="250.30" y="244.50" font-size="7.6" text-anchor="middle" font-weight="normal" fill="#111" stroke="#111" stroke-width="0.25" textLength="7.0" lengthAdjust="spacingAndGlyphs">10</text>
<text x="258.60" y="243.60" font-size="7.4" text-anchor="start" font-weight="normal" fill="#111" stroke="#111" stroke-width="0.1">: Transition</text>
<polyline points="40.40,390.52 50.50,390.52 50.50,320.30 95.40,320.30 95.40,334.00 103.00,334.00 103.00,323.20 192.00,323.20 192.00,345.50 205.00,345.50 205.00,390.52 223.60,390.52" fill="none" stroke="#e0b058" stroke-width="0.95" stroke-linejoin="round" stroke-dasharray="2.6,2.2" stroke-linecap="butt"/>
<polyline points="45.80,390.52 46.30,357.20 47.50,356.50 48.80,361.20 95.40,361.20 95.40,357.40 103.00,357.40 191.00,357.40 191.00,368.25 204.20,368.25 204.20,390.52" fill="none" stroke="#bb4a78" stroke-width="0.95" stroke-linejoin="round" stroke-dasharray="2.6,2.2" stroke-linecap="butt"/>
<polyline points="103.70,390.64 104.00,318.55 104.30,308.89 104.60,308.35 105.40,307.03 106.20,306.85 107.00,306.70 107.80,306.68 108.60,306.73 109.40,306.69 110.20,308.28 111.00,308.25 111.80,308.42 112.60,308.49 113.40,308.41 114.20,308.35 115.00,308.35 115.80,308.48 116.60,308.31 117.40,308.29 118.20,308.38 119.00,308.40 119.80,308.38 120.60,308.43 121.40,308.51 122.20,308.25 123.00,308.10 123.80,308.13 124.60,308.08 125.40,308.21 126.20,308.14 127.00,308.31 127.80,308.21 128.60,308.22 129.40,308.11 130.20,308.34 131.00,308.21 131.80,308.38 132.60,308.32 133.40,308.14 134.20,308.39 135.00,308.43 135.80,308.43 136.60,308.42 137.40,308.51 138.20,308.26 139.00,308.16 139.80,308.26 140.60,308.32 141.40,308.27 142.20,308.44 143.00,308.54 143.80,308.27 144.60,308.35 145.40,308.32 146.20,308.14 147.00,308.04 147.80,308.17 148.60,308.34 149.40,308.39 150.20,308.18 151.00,308.09 151.80,308.30 152.60,308.17 153.40,308.28 154.20,308.29 155.00,308.41 155.80,308.21 156.60,308.07 157.40,308.29 158.20,308.24 159.00,308.37 159.80,308.19 160.60,308.40 161.40,308.49 162.20,308.30 163.00,308.36 163.80,308.18 164.60,308.10 165.40,308.12 166.20,308.33 167.00,308.24 167.80,308.10 168.60,308.21 169.40,308.40 170.20,308.44 171.00,308.44 171.80,308.28 172.60,308.40 173.40,308.46 174.20,308.47 175.00,308.32 175.80,308.20 176.60,308.29 177.40,308.23 178.20,308.12 179.00,308.17 179.80,308.33 180.60,308.38 181.40,308.18 182.20,308.17 183.00,308.31 183.80,308.25 184.60,308.42 185.40,308.18 186.20,308.25 187.00,308.26 187.80,308.26 188.60,308.44 189.40,308.33 190.30,390.64" fill="none" stroke="#a8586e" stroke-width="0.95" stroke-linejoin="round" />
<polyline points="103.70,390.64 104.00,327.62 104.80,327.70 105.60,327.41 106.40,327.70 107.20,327.72 108.00,327.45 108.80,327.62 109.60,327.69 110.40,327.56 111.20,327.71 112.00,327.36 112.80,327.13 113.60,327.59 114.40,327.56 115.20,327.37 116.00,327.50 116.80,327.23 117.60,327.36 118.40,327.62 119.20,327.52 120.00,327.41 120.80,327.53 121.60,327.41 122.40,327.28 123.20,327.37 124.00,327.43 124.80,327.25 125.60,327.25 126.40,327.36 127.20,327.15 128.00,327.51 128.80,327.33 129.60,327.61 130.40,327.48 131.20,327.64 132.00,327.60 132.80,327.38 133.60,327.26 134.40,327.20 135.20,327.50 136.00,327.50 136.80,327.66 137.60,327.52 138.40,327.51 139.20,327.78 140.00,327.57 140.80,327.40 141.60,327.40 142.40,327.22 143.20,327.54 144.00,327.73 144.80,327.90 145.60,327.69 146.40,327.63 147.20,327.59 148.00,327.68 148.80,327.40 149.60,327.70 150.40,327.35 151.20,327.38 152.00,327.40 152.80,327.27 153.60,327.54 154.40,327.72 155.20,327.72 156.00,327.88 156.80,327.79 157.60,327.57 158.40,327.51 159.20,327.64 160.00,327.51 160.80,327.75 161.60,327.42 162.40,327.65 163.20,327.72 164.00,327.81 164.80,327.53 165.60,327.31 166.40,327.22 167.20,327.62 168.00,327.61 168.80,327.63 169.60,327.73 170.40,327.32 171.20,327.68 172.00,327.59 172.80,327.38 173.60,327.14 174.40,327.53 175.20,327.53 176.00,327.36 176.80,327.70 177.60,327.75 178.40,327.38 179.20,327.65 180.00,327.63 180.80,327.68 181.60,327.63 182.40,327.81 183.20,327.93 184.00,327.41 184.80,327.29 185.60,327.25 186.40,327.53 187.20,327.66 188.00,327.54 188.80,327.67 189.60,327.60 190.30,390.64" fill="none" stroke="#f03c3c" stroke-width="0.95" stroke-linejoin="round" />
<polyline points="103.70,390.64 104.00,342.70 104.30,332.47 105.10,332.64 105.90,332.74 106.70,332.47 107.50,332.52 108.30,332.82 109.10,332.80 109.90,332.67 110.70,332.88 111.50,332.86 112.30,332.67 113.10,332.50 113.90,332.54 114.70,332.42 115.50,332.57 116.30,332.68 117.10,332.51 117.90,332.65 118.70,332.53 119.50,332.74 120.30,332.78 121.10,332.88 121.90,332.76 122.70,332.88 123.50,332.92 124.30,332.94 125.10,332.82 125.90,332.84 126.70,332.79 127.50,332.49 128.30,332.50 129.10,332.41 129.90,332.69 130.70,332.74 131.50,332.91 132.30,332.70 133.10,332.76 133.90,332.83 134.70,332.98 135.50,332.98 136.30,332.95 137.10,332.86 137.90,332.57 138.70,332.52 139.50,332.71 140.30,332.76 141.10,332.89 141.90,332.57 142.70,332.69 143.50,332.56 144.30,332.51 145.10,332.40 145.90,332.77 146.70,332.81 147.50,332.80 148.30,332.94 149.10,332.62 149.90,332.74 150.70,332.58 151.50,332.62 152.30,332.86 153.10,332.82 153.90,332.88 154.70,333.00 155.50,333.01 156.30,332.80 157.10,332.96 157.90,332.91 158.70,332.83 159.50,332.73 160.30,331.67 161.10,331.47 161.90,331.59 162.70,331.42 163.50,331.36 164.30,331.59 165.10,331.67 165.90,331.68 166.70,331.47 167.50,331.52 168.30,331.55 169.10,331.33 169.90,331.53 170.70,331.60 171.50,331.61 172.30,331.68 173.10,331.80 173.90,331.86 174.70,331.60 175.50,331.51 176.30,331.34 177.10,331.17 177.90,331.42 178.70,331.36 179.50,331.21 180.30,331.48 181.10,331.38 181.90,331.35 182.70,331.19 183.50,331.15 184.30,331.44 185.10,331.39 185.90,331.63 186.70,331.58 187.50,331.58 188.30,331.74 189.10,331.66 189.90,331.65 190.30,390.64" fill="none" stroke="#8a8a8a" stroke-width="0.95" stroke-linejoin="round" />
<polyline points="103.70,390.64 104.00,345.96 104.80,346.12 105.60,346.29 106.40,346.19 107.20,346.10 108.00,346.27 108.80,346.00 109.60,346.17 110.40,346.36 111.20,346.27 112.00,346.17 112.80,346.32 113.60,346.08 114.40,345.87 115.20,345.88 116.00,345.77 116.80,346.21 117.60,346.17 118.40,346.16 119.20,346.38 120.00,346.24 120.80,346.42 121.60,346.19 122.40,346.02 123.20,346.01 124.00,346.11 124.80,346.21 125.60,346.43 126.40,346.31 127.20,345.85 128.00,345.86 128.80,346.08 129.60,345.90 130.40,346.16 131.20,346.08 132.00,345.94 132.80,345.62 133.60,345.89 134.40,345.87 135.20,345.59 136.00,345.58 136.80,345.68 137.60,345.73 138.40,345.91 139.20,346.00 140.00,346.14 140.80,345.81 141.60,345.61 142.40,345.87 143.20,345.62 144.00,346.12 144.80,346.31 145.60,346.13 146.40,346.18 147.20,346.17 148.00,345.72 148.80,346.09 149.60,346.25 150.40,346.30 151.20,346.00 152.00,346.17 152.80,346.43 153.60,346.16 154.40,346.14 155.20,346.24 156.00,346.10 156.80,345.92 157.60,345.91 158.40,345.84 159.20,345.86 160.00,345.67 160.80,345.48 161.60,345.84 162.40,346.01 163.20,345.71 164.00,345.97 164.80,345.81 165.60,345.74 166.40,345.72 167.20,345.50 168.00,345.50 168.80,345.97 169.60,345.88 170.40,345.93 171.20,345.90 172.00,346.02 172.80,346.15 173.60,345.87 174.40,345.89 175.20,346.12 176.00,346.22 176.80,346.22 177.60,346.32 178.40,346.13 179.20,346.32 180.00,346.45 180.80,346.52 181.60,346.53 182.40,346.10 183.20,346.31 184.00,346.17 184.80,345.87 185.60,345.93 186.40,346.19 187.20,345.81 188.00,345.62 188.80,346.11 189.60,346.21 190.30,390.64" fill="none" stroke="#e0a820" stroke-width="0.95" stroke-linejoin="round" />
<polyline points="103.70,390.64 104.00,355.01 104.80,354.80 105.60,354.99 106.40,354.84 107.20,355.11 108.00,354.91 108.80,355.09 109.60,355.17 110.40,354.91 111.20,354.71 112.00,354.63 112.80,354.77 113.60,354.95 114.40,354.83 115.20,354.84 116.00,354.69 116.80,354.63 117.60,355.10 118.40,355.15 119.20,354.96 120.00,355.18 120.80,355.33 121.60,355.52 122.40,355.21 123.20,354.79 124.00,354.56 124.80,355.06 125.60,354.90 126.40,355.02 127.20,354.92 128.00,355.04 128.80,354.72 129.60,354.51 130.40,355.09 131.20,354.90 132.00,355.23 132.80,355.46 133.60,355.39 134.40,355.04 135.20,354.67 136.00,355.12 136.80,355.19 137.60,355.45 138.40,355.20 139.20,355.12 140.00,355.16 140.80,355.23 141.60,354.90 142.40,354.71 143.20,355.02 144.00,355.10 144.80,354.97 145.60,354.80 146.40,354.56 147.20,354.87 148.00,354.80 148.80,354.88 149.60,354.73 150.40,355.13 151.20,355.31 152.00,355.45 152.80,354.92 153.60,355.15 154.40,355.09 155.20,355.33 156.00,355.30 156.80,355.51 157.60,355.21 158.40,355.37 159.20,355.10 160.00,355.22 160.80,355.32 161.60,355.18 162.40,355.20 163.20,355.28 164.00,355.47 164.80,355.56 165.60,355.00 166.40,355.15 167.20,355.39 168.00,355.43 168.80,355.24 169.60,354.77 170.40,355.11 171.20,354.80 172.00,354.92 172.80,355.03 173.60,354.80 174.40,354.98 175.20,355.32 176.00,355.13 176.80,354.96 177.60,354.90 178.40,355.12 179.20,354.75 180.00,354.62 180.80,354.46 181.60,354.78 182.40,354.66 183.20,354.67 184.00,355.08 184.80,355.39 185.60,355.44 186.40,355.51 187.20,355.57 188.00,355.40 188.80,355.02 189.60,355.16 190.30,390.64" fill="none" stroke="#1fae86" stroke-width="0.95" stroke-linejoin="round" />
<polyline points="103.70,390.64 104.00,358.51 104.80,358.87 105.60,358.90 106.40,358.38 107.20,358.80 108.00,358.64 108.80,358.35 109.60,358.22 110.40,358.20 111.20,358.43 112.00,358.26 112.80,358.15 113.60,358.14 114.40,357.98 115.20,358.54 116.00,358.20 116.80,358.43 117.60,358.33 118.40,358.60 119.20,358.26 120.00,358.74 120.80,358.57 121.60,358.74 122.40,358.71 123.20,358.71 124.00,358.50 124.80,358.28 125.60,358.50 126.40,358.41 127.20,358.57 128.00,358.70 128.80,358.32 129.60,358.55 130.40,358.83 131.20,358.79 132.00,358.48 132.80,358.71 133.60,358.44 134.40,358.44 135.20,358.35 136.00,358.67 136.80,358.88 137.60,358.96 138.40,358.85 139.20,358.73 140.00,358.98 140.80,358.75 141.60,358.70 142.40,358.74 143.20,358.60 144.00,358.23 144.80,358.59 145.60,358.28 146.40,358.53 147.20,358.34 148.00,358.71 148.80,358.26 149.60,358.44 150.40,358.14 151.20,358.53 152.00,358.59 152.80,358.41 153.60,358.70 154.40,358.77 155.20,358.52 156.00,358.19 156.80,358.48 157.60,358.73 158.40,358.73 159.20,358.27 160.00,358.65 160.80,358.49 161.60,358.59 162.40,358.45 163.20,358.69 164.00,358.52 164.80,358.24 165.60,358.12 166.40,358.23 167.20,358.37 168.00,358.39 168.80,358.74 169.60,358.38 170.40,358.31 171.20,358.45 172.00,358.36 172.80,358.50 173.60,358.59 174.40,358.75 175.20,358.56 176.00,358.49 176.80,358.49 177.60,358.84 178.40,358.59 179.20,358.59 180.00,358.49 180.80,358.43 181.60,358.16 182.40,358.59 183.20,358.58 184.00,358.19 184.80,358.18 185.60,358.49 186.40,358.33 187.20,358.07 188.00,358.36 188.80,358.18 189.60,358.62 190.30,390.64" fill="none" stroke="#22c6de" stroke-width="0.95" stroke-linejoin="round" />
<polyline points="103.70,390.64 104.00,363.90 104.80,363.99 105.60,364.13 106.40,363.98 107.20,363.97 108.00,363.86 108.80,363.85 109.60,363.85 110.40,363.96 111.20,363.84 112.00,364.11 112.80,363.96 113.60,363.94 114.40,364.10 115.20,363.97 116.00,364.04 116.80,364.04 117.60,363.93 118.40,364.11 119.20,364.17 120.00,364.07 120.80,364.23 121.60,364.13 122.40,364.00 123.20,364.04 124.00,364.15 124.80,364.00 125.60,363.91 126.40,363.89 127.20,363.96 128.00,363.87 128.80,363.86 129.60,364.09 130.40,364.13 131.20,364.25 132.00,364.33 132.80,364.26 133.60,364.03 134.40,363.93 135.20,364.14 136.00,364.22 136.80,364.19 137.60,364.00 138.40,364.00 139.20,363.89 140.00,364.14 140.80,363.93 141.60,364.11 142.40,364.04 143.20,363.92 144.00,363.91 144.80,364.10 145.60,364.03 146.40,364.07 147.20,364.25 148.00,364.22 148.80,364.21 149.60,364.10 150.40,364.16 151.20,364.08 152.00,364.01 152.80,364.16 153.60,364.25 154.40,364.09 155.20,364.09 156.00,364.22 156.80,364.28 157.60,364.02 158.40,364.01 159.20,364.09 160.00,364.19 160.80,363.95 161.60,363.94 162.40,363.92 163.20,364.05 164.00,364.13 164.80,364.13 165.60,364.23 166.40,364.10 167.20,364.12 168.00,363.98 168.80,364.06 169.60,364.08 170.40,364.07 171.20,363.91 172.00,364.05 172.80,363.99 173.60,364.13 174.40,364.07 175.20,364.15 176.00,363.98 176.80,364.10 177.60,363.96 178.40,363.95 179.20,364.03 180.00,363.89 180.80,364.02 181.60,363.96 182.40,363.98 183.20,364.04 184.00,364.22 184.80,364.17 185.60,364.20 186.40,364.16 187.20,363.95 188.00,364.09 188.80,364.01 189.60,363.98 190.30,390.64" fill="none" stroke="#c58ae6" stroke-width="0.95" stroke-linejoin="round" />
<polyline points="103.70,390.64 104.00,354.77 104.90,358.40 105.70,364.44 106.30,362.74 106.85,362.75 107.40,363.00 107.95,363.16 108.50,363.94 109.05,369.37 109.60,368.48 110.15,368.34 110.70,368.69 111.25,368.68 111.80,369.35 112.35,363.85 112.90,363.30 113.45,363.20 114.00,362.53 114.55,362.53 115.10,367.34 115.65,367.55 116.20,367.37 116.75,367.63 117.30,368.41 117.85,368.46 118.40,362.28 118.95,362.45 119.50,361.76 120.05,361.79 120.60,361.09 121.15,366.40 121.70,367.32 122.25,366.51 122.80,361.20 123.35,360.62 123.90,362.11 124.45,361.35 125.00,361.37 125.55,360.85 126.10,361.51 126.65,360.12 127.20,361.35 127.75,361.00 128.30,366.10 128.85,366.72 129.40,365.46 129.95,366.71 130.50,365.01 131.05,359.78 131.60,359.50 132.15,359.82 132.70,359.22 133.25,359.97 133.80,359.19 134.35,359.87 134.90,360.25 135.45,359.81 136.00,359.73 136.55,365.51 137.10,364.91 137.65,364.58 138.20,358.69 138.75,359.76 139.30,358.15 139.85,364.98 140.40,364.14 140.95,364.80 141.50,364.78 142.05,363.98 142.60,364.26 143.15,363.36 143.70,364.17 144.25,363.81 144.80,364.33 145.35,357.91 145.90,358.53 146.45,358.55 147.00,358.41 147.55,357.04 148.10,363.65 148.65,362.18 149.20,362.85 149.75,362.97 150.30,362.53 150.85,362.02 151.40,361.77 151.95,362.62 152.50,363.21 153.05,362.88 153.60,356.38 154.15,356.34 154.70,357.19 155.25,361.76 155.80,362.03 156.35,361.80 156.90,361.01 157.45,361.55 158.00,361.09 158.55,360.98 159.10,361.55 159.65,361.62 160.20,361.68 160.75,356.33 161.30,354.88 161.85,355.79 162.40,355.44 162.95,355.07 163.50,354.60 164.05,354.41 164.60,354.97 165.15,354.99 165.70,354.23 166.25,360.05 166.80,360.57 167.35,359.92 167.90,360.48 168.45,360.62 169.00,359.34 169.55,359.94 170.10,359.41 170.65,354.23 171.20,354.82 171.75,353.41 172.30,354.63 172.85,353.76 173.40,353.64 173.95,358.53 174.50,358.69 175.05,358.54 175.60,359.60 176.15,358.97 176.70,357.88 177.25,358.52 177.80,358.43 178.35,353.17 178.90,352.71 179.45,353.45 180.00,358.37 180.55,358.48 181.10,357.18 181.65,357.55 182.20,357.22 182.75,358.20 183.30,357.18 183.85,358.29 184.40,357.99 184.95,358.01 185.50,352.60 186.05,352.45 186.60,352.10 187.15,351.98 187.70,351.01 188.25,351.55 188.80,356.94 189.35,357.05 189.90,356.30 190.30,390.64" fill="none" stroke="#a0a828" stroke-width="0.95" stroke-linejoin="round" />
<polyline points="103.70,390.64 104.00,378.24 104.80,377.57 105.60,377.38 106.40,377.78 107.20,377.98 108.00,377.60 108.80,377.44 109.60,377.50 110.40,378.10 111.20,377.71 112.00,378.21 112.80,377.91 113.60,377.82 114.40,377.42 115.20,377.49 116.00,378.13 116.80,377.56 117.60,377.46 118.40,377.57 119.20,378.18 120.00,377.78 120.80,377.89 121.60,377.69 122.40,377.30 123.20,377.16 124.00,377.91 124.80,377.60 125.60,377.78 126.40,377.57 127.20,377.82 128.00,377.88 128.80,377.92 129.60,378.25 130.40,378.22 131.20,377.80 132.00,378.23 132.80,378.41 133.60,377.80 134.40,377.66 135.20,377.70 136.00,378.14 136.80,378.36 137.60,378.28 138.40,377.62 139.20,377.67 140.00,377.35 140.80,377.87 141.60,377.94 142.40,377.85 143.20,377.52 144.00,378.04 144.80,377.58 145.60,377.74 146.40,378.24 147.20,378.10 148.00,378.09 148.80,377.80 149.60,377.40 150.40,377.63 151.20,377.55 152.00,377.80 152.80,377.55 153.60,378.08 154.40,377.72 155.20,378.10 156.00,377.89 156.80,378.15 157.60,378.14 158.40,378.32 159.20,378.22 160.00,377.94 160.80,377.87 161.60,377.96 162.40,377.83 163.20,377.50 164.00,377.81 164.80,377.74 165.60,377.81 166.40,377.36 167.20,377.76 168.00,377.61 168.80,377.98 169.60,378.14 170.40,377.77 171.20,377.73 172.00,378.02 172.80,378.35 173.60,377.78 174.40,377.93 175.20,377.67 176.00,377.82 176.80,377.72 177.60,377.72 178.40,377.32 179.20,377.18 180.00,377.55 180.80,377.71 181.60,378.03 182.40,377.69 183.20,378.15 184.00,378.18 184.80,377.67 185.60,378.21 186.40,377.83 187.20,377.77 188.00,377.75 188.80,377.96 189.60,378.23 190.30,390.64" fill="none" stroke="#2f86e6" stroke-width="0.95" stroke-linejoin="round" />
<polyline points="40.40,390.64 103.60,390.64 103.60,326.64 189.80,326.64 189.80,390.64 223.60,390.64" fill="none" stroke="#f45656" stroke-width="0.95" stroke-linejoin="round" stroke-dasharray="2.6,2.2" stroke-linecap="butt"/>
<rect x="40.40" y="294.40" width="183.20" height="96.60" fill="none" stroke="#858585" stroke-width="1.35"/>
<line x1="40.40" y1="391.00" x2="42.90" y2="391.00" stroke="#444" stroke-width="0.6" />
<text transform="translate(38.10,392.80) scale(0.86,1)" x="0" y="0" font-size="6.9" text-anchor="end" fill="#111">0</text>
<line x1="40.40" y1="378.93" x2="41.90" y2="378.93" stroke="#444" stroke-width="0.6" />
<line x1="40.40" y1="366.85" x2="42.90" y2="366.85" stroke="#444" stroke-width="0.6" />
<text transform="translate(38.10,368.65) scale(0.86,1)" x="0" y="0" font-size="6.9" text-anchor="end" fill="#111">20</text>
<line x1="40.40" y1="354.77" x2="41.90" y2="354.77" stroke="#444" stroke-width="0.6" />
<line x1="40.40" y1="342.70" x2="42.90" y2="342.70" stroke="#444" stroke-width="0.6" />
<text transform="translate(38.10,344.50) scale(0.86,1)" x="0" y="0" font-size="6.9" text-anchor="end" fill="#111">40</text>
<line x1="40.40" y1="330.62" x2="41.90" y2="330.62" stroke="#444" stroke-width="0.6" />
<line x1="40.40" y1="318.55" x2="42.90" y2="318.55" stroke="#444" stroke-width="0.6" />
<text transform="translate(38.10,320.35) scale(0.86,1)" x="0" y="0" font-size="6.9" text-anchor="end" fill="#111">60</text>
<line x1="40.40" y1="306.47" x2="41.90" y2="306.47" stroke="#444" stroke-width="0.6" />
<line x1="40.40" y1="294.40" x2="42.90" y2="294.40" stroke="#444" stroke-width="0.6" />
<text transform="translate(38.10,296.20) scale(0.86,1)" x="0" y="0" font-size="6.9" text-anchor="end" fill="#111">80</text>
<line x1="40.40" y1="391.00" x2="40.40" y2="388.50" stroke="#444" stroke-width="0.6" />
<text transform="translate(40.40,398.80) scale(0.86,1)" x="0" y="0" font-size="6.9" text-anchor="middle" fill="#111">0</text>
<line x1="51.50" y1="391.00" x2="51.50" y2="389.50" stroke="#444" stroke-width="0.6" />
<line x1="62.60" y1="391.00" x2="62.60" y2="388.50" stroke="#444" stroke-width="0.6" />
<text transform="translate(62.60,398.80) scale(0.86,1)" x="0" y="0" font-size="6.9" text-anchor="middle" fill="#111">20</text>
<line x1="73.70" y1="391.00" x2="73.70" y2="389.50" stroke="#444" stroke-width="0.6" />
<line x1="84.80" y1="391.00" x2="84.80" y2="388.50" stroke="#444" stroke-width="0.6" />
<text transform="translate(84.80,398.80) scale(0.86,1)" x="0" y="0" font-size="6.9" text-anchor="middle" fill="#111">40</text>
<line x1="95.90" y1="391.00" x2="95.90" y2="389.50" stroke="#444" stroke-width="0.6" />
<line x1="107.00" y1="391.00" x2="107.00" y2="388.50" stroke="#444" stroke-width="0.6" />
<text transform="translate(107.00,398.80) scale(0.86,1)" x="0" y="0" font-size="6.9" text-anchor="middle" fill="#111">60</text>
<line x1="118.10" y1="391.00" x2="118.10" y2="389.50" stroke="#444" stroke-width="0.6" />
<line x1="129.20" y1="391.00" x2="129.20" y2="388.50" stroke="#444" stroke-width="0.6" />
<text transform="translate(129.20,398.80) scale(0.86,1)" x="0" y="0" font-size="6.9" text-anchor="middle" fill="#111">80</text>
<line x1="140.30" y1="391.00" x2="140.30" y2="389.50" stroke="#444" stroke-width="0.6" />
<line x1="151.40" y1="391.00" x2="151.40" y2="388.50" stroke="#444" stroke-width="0.6" />
<text transform="translate(151.40,398.80) scale(0.86,1)" x="0" y="0" font-size="6.9" text-anchor="middle" fill="#111">100</text>
<line x1="162.50" y1="391.00" x2="162.50" y2="389.50" stroke="#444" stroke-width="0.6" />
<line x1="173.60" y1="391.00" x2="173.60" y2="388.50" stroke="#444" stroke-width="0.6" />
<text transform="translate(173.60,398.80) scale(0.86,1)" x="0" y="0" font-size="6.9" text-anchor="middle" fill="#111">120</text>
<line x1="184.70" y1="391.00" x2="184.70" y2="389.50" stroke="#444" stroke-width="0.6" />
<line x1="195.80" y1="391.00" x2="195.80" y2="388.50" stroke="#444" stroke-width="0.6" />
<text transform="translate(195.80,398.80) scale(0.86,1)" x="0" y="0" font-size="6.9" text-anchor="middle" fill="#111">140</text>
<line x1="206.90" y1="391.00" x2="206.90" y2="389.50" stroke="#444" stroke-width="0.6" />
<line x1="218.00" y1="391.00" x2="218.00" y2="388.50" stroke="#444" stroke-width="0.6" />
<text transform="translate(218.00,398.80) scale(0.86,1)" x="0" y="0" font-size="6.9" text-anchor="middle" fill="#111">160</text>
<line x1="223.60" y1="391.00" x2="226.10" y2="391.00" stroke="#444" stroke-width="0.6" />
<text transform="translate(226.40,392.90) scale(0.86,1)" x="0" y="0" font-size="6.9" text-anchor="start" fill="#111">0</text>
<line x1="223.60" y1="379.62" x2="225.10" y2="379.62" stroke="#444" stroke-width="0.6" />
<line x1="223.60" y1="368.25" x2="226.10" y2="368.25" stroke="#444" stroke-width="0.6" />
<text transform="translate(226.40,370.15) scale(0.86,1)" x="0" y="0" font-size="6.9" text-anchor="start" fill="#111">1</text>
<line x1="223.60" y1="356.88" x2="225.10" y2="356.88" stroke="#444" stroke-width="0.6" />
<line x1="223.60" y1="345.50" x2="226.10" y2="345.50" stroke="#444" stroke-width="0.6" />
<text transform="translate(226.40,347.40) scale(0.86,1)" x="0" y="0" font-size="6.9" text-anchor="start" fill="#111">2</text>
<line x1="223.60" y1="334.12" x2="225.10" y2="334.12" stroke="#444" stroke-width="0.6" />
<line x1="223.60" y1="322.75" x2="226.10" y2="322.75" stroke="#444" stroke-width="0.6" />
<text transform="translate(226.40,324.65) scale(0.86,1)" x="0" y="0" font-size="6.9" text-anchor="start" fill="#111">3</text>
<line x1="223.60" y1="311.38" x2="225.10" y2="311.38" stroke="#444" stroke-width="0.6" />
<line x1="223.60" y1="300.00" x2="226.10" y2="300.00" stroke="#444" stroke-width="0.6" />
<text transform="translate(226.40,301.90) scale(0.86,1)" x="0" y="0" font-size="6.9" text-anchor="start" fill="#111">4</text>
<text x="6.00" y="287.80" font-size="9.6" text-anchor="start" font-weight="bold" fill="#111" >(c)</text>
<text x="25.3" y="347.25" font-size="7.27" font-weight="bold" text-anchor="middle" fill="#111" stroke="#111" stroke-width="0.15" transform="rotate(-90 25.3 347.25)" dominant-baseline="central">Harmonics Power (%)</text>
<text x="234.75" y="346.80" font-size="6.5" font-weight="normal" text-anchor="middle" fill="#111" stroke="#111" stroke-width="0.08" transform="rotate(-90 234.75 346.80)" dominant-baseline="central">LF RF Power (kW)</text>
<text x="129.70" y="406.50" font-size="6.9" text-anchor="middle" font-weight="bold" fill="#111" stroke="#111" stroke-width="0.2">Time (sec)</text>
<polyline points="41.00,528.02 51.30,528.02 51.30,459.40 95.50,459.40 95.50,472.80 103.40,472.80 103.40,461.50 192.20,461.50 192.20,483.70 204.20,483.70 204.20,528.02 224.00,528.02" fill="none" stroke="#e0b058" stroke-width="0.95" stroke-linejoin="round" stroke-dasharray="2.6,2.2" stroke-linecap="butt"/>
<polyline points="46.50,528.02 47.00,495.21 48.00,496.40 49.50,499.38 95.50,499.70 95.50,495.20 192.20,495.20 192.20,506.10 204.00,506.10 204.00,528.02" fill="none" stroke="#bb4a78" stroke-width="0.95" stroke-linejoin="round" stroke-dasharray="2.6,2.2" stroke-linecap="butt"/>
<polyline points="103.60,528.50 103.60,445.4 192.2,445.4 192.2,528.50" fill="none" stroke="#777" stroke-width="0.8"/>
<polyline points="103.60,528.14 103.90,470.09 104.70,470.08 105.50,470.05 106.30,470.30 107.10,470.17 107.90,470.31 108.70,470.39 109.50,470.31 110.30,470.24 111.10,470.38 111.90,470.22 112.70,470.21 113.50,470.09 114.30,470.02 115.10,470.07 115.90,470.21 116.70,470.07 117.50,470.08 118.30,470.24 119.10,470.12 119.90,470.10 120.70,470.26 121.50,470.35 122.30,470.47 123.10,470.35 123.90,470.39 124.70,470.39 125.50,470.41 126.30,470.46 127.10,470.36 127.90,470.39 128.70,470.40 129.50,470.40 130.30,470.32 131.10,470.15 131.90,470.32 132.70,470.16 133.50,470.08 134.30,470.13 135.10,470.17 135.90,470.13 136.70,470.18 137.50,470.16 138.30,470.05 139.10,470.05 139.90,470.24 140.70,470.40 141.50,470.17 142.30,470.26 143.10,470.15 143.90,470.30 144.70,470.29 145.50,470.32 146.30,470.20 147.10,470.07 147.90,470.16 148.70,470.18 149.50,470.27 150.30,470.36 151.10,470.14 151.90,470.34 152.70,470.14 153.50,470.14 154.30,470.35 155.10,470.16 155.90,470.35 156.70,470.28 157.50,470.40 158.30,470.15 159.10,470.27 159.90,470.13 160.70,470.35 161.50,470.24 162.30,470.40 163.10,470.49 163.90,470.35 164.70,470.13 165.50,470.12 166.30,470.06 167.10,470.05 167.90,470.15 168.70,470.35 169.50,470.29 170.30,470.38 171.10,470.31 171.90,470.33 172.70,470.29 173.50,470.38 174.30,470.24 175.10,470.28 175.90,470.27 176.70,470.41 177.50,470.34 178.30,470.27 179.10,470.09 179.90,470.15 180.70,470.33 181.50,470.36 182.30,470.37 183.10,470.24 183.90,470.09 184.70,470.00 185.50,469.96 186.30,469.96 187.10,469.98 187.90,469.96 188.80,528.14" fill="none" stroke="#7a1e2c" stroke-width="0.85" stroke-linejoin="round" />
<polyline points="103.60,528.14 103.90,484.80 104.70,484.66 105.50,484.54 106.30,482.75 107.10,482.73 107.90,482.73 108.70,482.53 109.50,482.94 110.30,482.88 111.10,482.59 111.90,483.00 112.70,483.16 113.50,482.79 114.30,482.55 115.10,482.98 115.90,483.20 116.70,482.83 117.50,482.73 118.30,482.78 119.10,482.77 119.90,482.66 120.70,482.57 121.50,483.01 122.30,483.19 123.10,482.84 123.90,482.57 124.70,482.51 125.50,482.74 126.30,482.89 127.10,482.96 127.90,483.20 128.70,482.86 129.50,483.00 130.30,482.87 131.10,482.85 131.90,482.95 132.70,482.80 133.50,482.85 134.30,483.01 135.10,482.70 135.90,482.97 136.70,483.12 137.50,483.13 138.30,483.00 139.10,482.76 139.90,482.91 140.70,483.03 141.50,482.85 142.30,482.99 143.10,482.91 143.90,483.03 144.70,482.72 145.50,482.97 146.30,483.07 147.10,483.08 147.90,483.07 148.70,482.82 149.50,482.73 150.30,482.62 151.10,482.71 151.90,483.03 152.70,482.79 153.50,482.97 154.30,483.08 155.10,483.02 155.90,482.64 156.70,482.82 157.50,482.92 158.30,482.64 159.10,482.46 159.90,482.72 160.70,483.00 161.50,482.76 162.30,482.64 163.10,482.84 163.90,482.67 164.70,482.83 165.50,482.97 166.30,482.86 167.10,482.71 167.90,482.80 168.70,482.63 169.50,483.03 170.30,482.94 171.10,482.97 171.90,483.17 172.70,482.76 173.50,483.02 174.30,483.11 175.10,482.76 175.90,482.53 176.70,482.43 177.50,482.74 178.30,482.54 179.10,482.91 179.90,482.75 180.70,482.54 181.50,482.88 182.30,483.08 183.10,482.86 183.90,482.63 184.70,482.61 185.50,482.46 186.30,482.68 187.10,482.84 187.90,483.07 188.80,528.14" fill="none" stroke="#f42a2a" stroke-width="1.1" stroke-linejoin="round" />
<polyline points="103.60,528.14 103.90,513.87 104.50,513.27 105.10,513.96 105.70,514.05 106.30,513.92 106.90,514.17 107.50,513.99 108.10,514.06 108.70,514.14 109.30,513.76 109.90,513.64 110.50,513.57 111.10,513.36 111.70,513.53 112.30,513.16 112.90,513.91 113.50,514.00 114.10,514.17 114.70,513.99 115.30,513.49 115.90,513.17 116.50,513.50 117.10,513.94 117.70,513.90 118.30,513.65 118.90,513.85 119.50,513.41 120.10,513.10 120.70,513.52 121.30,513.50 121.90,513.25 122.50,513.56 123.10,513.92 123.70,513.28 124.30,513.06 124.90,513.94 125.50,513.47 126.10,513.69 126.70,514.10 127.30,514.12 127.90,514.11 128.50,513.55 129.10,513.90 129.70,514.20 130.30,514.09 130.90,513.48 131.50,513.59 132.10,513.47 132.70,513.63 133.30,513.95 133.90,514.22 134.50,514.01 135.10,514.21 135.70,514.05 136.30,513.64 136.90,513.77 137.50,513.71 138.10,513.54 138.70,513.79 139.30,513.83 139.90,513.31 140.50,513.46 141.10,513.67 141.70,513.61 142.30,513.67 142.90,513.82 143.50,513.28 144.10,513.80 144.70,513.25 145.30,513.17 145.90,513.12 146.50,513.82 147.10,513.69 147.70,513.17 148.30,513.71 148.90,513.99 149.50,513.52 150.10,513.87 150.70,513.63 151.30,513.98 151.90,513.30 152.50,513.75 153.10,514.08 153.70,513.58 154.30,513.78 154.90,513.62 155.50,513.64 156.10,513.22 156.70,513.50 157.30,513.72 157.90,514.16 158.50,513.80 159.10,513.92 159.70,513.65 160.30,513.51 160.90,513.64 161.50,514.05 162.10,513.77 162.70,513.70 163.30,513.52 163.90,513.13 164.50,513.71 165.10,513.72 165.70,514.08 166.30,513.47 166.90,513.86 167.50,513.38 168.10,513.26 168.70,513.77 169.30,513.28 169.90,513.53 170.50,513.68 171.10,513.60 171.70,513.18 172.30,513.51 172.90,513.62 173.50,513.84 174.10,513.36 174.70,513.55 175.30,513.77 175.90,513.98 176.50,514.03 177.10,513.42 177.70,513.27 178.30,513.05 178.90,513.05 179.50,513.28 180.10,513.23 180.70,513.31 181.30,513.23 181.90,513.22 182.50,513.84 183.10,513.39 183.70,513.76 184.30,513.93 184.90,513.31 185.50,514.02 186.10,513.74 186.70,513.83 187.30,513.41 187.90,513.46 188.50,513.18 188.80,528.14" fill="none" stroke="#c58ae6" stroke-width="0.95" stroke-linejoin="round" />
<polyline points="103.60,528.14 103.90,510.78 104.30,511.39 104.70,513.28 105.10,511.82 105.50,513.23 105.90,510.85 106.30,510.72 106.70,512.40 107.10,513.11 107.50,511.71 107.90,511.23 108.30,510.45 108.70,511.39 109.10,513.09 109.50,511.61 109.90,513.34 110.30,511.23 110.70,511.10 111.10,511.03 111.50,510.74 111.90,511.61 112.30,510.65 112.70,511.38 113.10,511.98 113.50,512.42 113.90,512.61 114.30,513.65 114.70,513.44 115.10,511.46 115.50,512.79 115.90,511.77 116.30,511.19 116.70,511.32 117.10,511.89 117.50,512.61 117.90,512.89 118.30,513.21 118.70,511.87 119.10,511.48 119.50,510.63 119.90,512.32 120.30,510.84 120.70,510.59 121.10,512.43 121.50,510.79 121.90,511.47 122.30,510.56 122.70,510.95 123.10,512.37 123.50,512.82 123.90,512.17 124.30,512.15 124.70,513.52 125.10,511.28 125.50,511.82 125.90,512.12 126.30,511.36 126.70,512.71 127.10,513.13 127.50,512.06 127.90,512.87 128.30,512.78 128.70,513.54 129.10,513.75 129.50,512.87 129.90,512.17 130.30,510.74 130.70,511.40 131.10,512.22 131.50,512.40 131.90,512.96 132.30,512.35 132.70,510.75 133.10,512.98 133.50,512.48 133.90,511.61 134.30,511.20 134.70,511.75 135.10,511.60 135.50,510.66 135.90,510.58 136.30,512.55 136.70,512.06 137.10,510.57 137.50,511.71 137.90,512.96 138.30,511.46 138.70,513.32 139.10,513.40 139.50,512.20 139.90,512.81 140.30,511.57 140.70,511.30 141.10,512.49 141.50,511.36 141.90,511.50 142.30,511.35 142.70,512.08 143.10,512.30 143.50,513.33 143.90,512.42 144.30,510.78 144.70,510.65 145.10,513.16 145.50,513.61 145.90,513.10 146.30,511.70 146.70,512.21 147.10,513.25 147.50,512.55 147.90,511.96 148.30,511.33 148.70,512.24 149.10,511.67 149.50,511.46 149.90,511.62 150.30,513.38 150.70,511.71 151.10,513.15 151.50,513.66 151.90,512.49 152.30,513.64 152.70,513.70 153.10,512.75 153.50,512.32 153.90,513.34 154.30,510.96 154.70,510.80 155.10,511.88 155.50,511.78 155.90,512.59 156.30,510.72 156.70,512.98 157.10,512.87 157.50,513.10 157.90,511.18 158.30,511.89 158.70,512.33 159.10,512.45 159.50,510.99 159.90,512.61 160.30,511.31 160.70,511.31 161.10,512.09 161.50,512.50 161.90,512.37 162.30,512.29 162.70,512.70 163.10,511.84 163.50,512.31 163.90,512.74 164.30,511.39 164.70,512.09 165.10,512.17 165.50,510.96 165.90,512.01 166.30,512.45 166.70,510.96 167.10,510.42 167.50,510.89 167.90,512.15 168.30,511.59 168.70,511.26 169.10,512.55 169.50,511.50 169.90,510.61 170.30,511.32 170.70,511.43 171.10,512.16 171.50,511.64 171.90,512.84 172.30,511.42 172.70,511.84 173.10,510.58 173.50,512.27 173.90,511.49 174.30,513.44 174.70,512.62 175.10,511.39 175.50,512.69 175.90,511.87 176.30,512.90 176.70,512.57 177.10,510.69 177.50,512.74 177.90,510.97 178.30,513.21 178.70,512.07 179.10,511.11 179.50,510.87 179.90,512.18 180.30,511.84 180.70,511.40 181.10,511.16 181.50,511.16 181.90,511.67 182.30,512.77 182.70,511.60 183.10,511.81 183.50,511.90 183.90,510.57 184.30,512.90 184.70,511.40 185.10,512.49 185.50,511.48 185.90,510.60 186.30,512.48 186.70,511.97 187.10,511.98 187.50,512.09 187.90,513.11 188.30,511.92 188.80,528.14" fill="none" stroke="#22c6de" stroke-width="0.95" stroke-linejoin="round" />
<polyline points="103.60,528.14 103.90,508.82 104.25,509.71 104.60,511.57 104.95,509.32 105.30,510.91 105.65,512.36 106.00,510.34 106.35,510.82 106.70,510.54 107.05,508.34 107.40,510.11 107.75,508.48 108.10,511.14 108.45,509.50 108.80,512.55 109.15,511.80 109.50,509.88 109.85,509.69 110.20,509.03 110.55,511.07 110.90,511.77 111.25,511.45 111.60,510.57 111.95,512.90 112.30,511.48 112.65,510.01 113.00,512.26 113.35,511.72 113.70,509.02 114.05,508.46 114.40,511.63 114.75,512.28 115.10,512.63 115.45,512.82 115.80,509.50 116.15,509.43 116.50,511.65 116.85,510.82 117.20,509.76 117.55,512.80 117.90,509.38 118.25,508.85 118.60,511.85 118.95,509.83 119.30,509.65 119.65,511.33 120.00,508.95 120.35,511.82 120.70,510.91 121.05,511.57 121.40,511.03 121.75,509.23 122.10,510.20 122.45,510.11 122.80,508.32 123.15,511.74 123.50,512.08 123.85,510.25 124.20,512.27 124.55,508.64 124.90,511.21 125.25,511.01 125.60,511.03 125.95,509.16 126.30,508.56 126.65,509.62 127.00,512.11 127.35,511.49 127.70,509.78 128.05,511.92 128.40,508.99 128.75,508.75 129.10,511.76 129.45,511.42 129.80,512.02 130.15,509.78 130.50,512.71 130.85,509.95 131.20,512.66 131.55,509.26 131.90,510.32 132.25,510.24 132.60,512.53 132.95,513.00 133.30,511.59 133.65,508.48 134.00,509.98 134.35,508.89 134.70,512.55 135.05,512.73 135.40,513.13 135.75,509.99 136.10,512.12 136.45,511.88 136.80,510.00 137.15,509.68 137.50,511.41 137.85,510.90 138.20,511.68 138.55,510.48 138.90,511.33 139.25,511.39 139.60,511.92 139.95,511.77 140.30,511.90 140.65,513.07 141.00,511.80 141.35,510.35 141.70,511.73 142.05,512.60 142.40,509.23 142.75,510.67 143.10,510.61 143.45,511.55 143.80,508.93 144.15,509.30 144.50,509.95 144.85,509.85 145.20,509.68 145.55,510.57 145.90,511.07 146.25,511.23 146.60,510.71 146.95,510.82 147.30,510.55 147.65,510.50 148.00,509.29 148.35,508.68 148.70,511.77 149.05,513.03 149.40,511.84 149.75,512.99 150.10,509.51 150.45,509.99 150.80,511.61 151.15,512.22 151.50,509.09 151.85,508.93 152.20,509.63 152.55,509.66 152.90,509.42 153.25,510.76 153.60,511.16 153.95,510.47 154.30,508.86 154.65,508.17 155.00,508.46 155.35,508.87 155.70,512.49 156.05,512.04 156.40,508.59 156.75,510.26 157.10,510.56 157.45,511.55 157.80,509.05 158.15,510.43 158.50,508.34 158.85,512.43 159.20,508.52 159.55,512.74 159.90,512.53 160.25,511.38 160.60,510.08 160.95,512.44 161.30,510.55 161.65,508.59 162.00,510.76 162.35,509.44 162.70,510.11 163.05,510.23 163.40,512.16 163.75,510.99 164.10,508.82 164.45,509.66 164.80,511.90 165.15,511.04 165.50,510.50 165.85,511.42 166.20,510.38 166.55,510.02 166.90,512.87 167.25,512.21 167.60,510.08 167.95,511.96 168.30,512.81 168.65,509.65 169.00,511.35 169.35,508.58 169.70,510.18 170.05,512.50 170.40,510.21 170.75,511.74 171.10,509.30 171.45,509.48 171.80,509.33 172.15,512.62 172.50,513.06 172.85,509.51 173.20,512.24 173.55,512.23 173.90,513.04 174.25,512.49 174.60,510.98 174.95,508.54 175.30,511.30 175.65,511.86 176.00,509.24 176.35,512.01 176.70,510.17 177.05,510.08 177.40,508.56 177.75,512.61 178.10,510.57 178.45,511.21 178.80,509.20 179.15,511.69 179.50,509.76 179.85,512.06 180.20,510.83 180.55,508.48 180.90,511.67 181.25,511.81 181.60,508.82 181.95,509.66 182.30,512.61 182.65,512.34 183.00,512.07 183.35,511.80 183.70,509.16 184.05,509.57 184.40,508.30 184.75,509.63 185.10,509.96 185.45,511.15 185.80,509.69 186.15,510.60 186.50,512.74 186.85,510.91 187.20,511.24 187.55,510.58 187.90,512.78 188.25,513.10 188.80,528.14" fill="none" stroke="#1fae86" stroke-width="0.95" stroke-linejoin="round" />
<polyline points="103.60,528.14 103.90,501.90 104.30,503.69 104.70,504.20 105.10,504.95 105.50,503.59 105.90,502.23 106.30,504.50 106.70,503.87 107.10,503.77 107.50,502.85 107.90,503.37 108.30,504.61 108.70,505.05 109.10,503.32 109.50,505.21 109.90,502.91 110.30,505.31 110.70,505.28 111.10,504.34 111.50,502.88 111.90,503.37 112.30,503.06 112.70,502.96 113.10,503.09 113.50,505.43 113.90,503.27 114.30,505.17 114.70,505.52 115.10,506.04 115.50,506.19 115.90,503.33 116.30,504.48 116.70,505.73 117.10,506.14 117.50,503.50 117.90,503.83 118.30,502.83 118.70,505.66 119.10,505.99 119.50,505.47 119.90,505.72 120.30,506.05 120.70,505.84 121.10,504.30 121.50,505.63 121.90,505.91 122.30,504.73 122.70,505.06 123.10,505.92 123.50,504.68 123.90,504.65 124.30,505.07 124.70,504.88 125.10,506.35 125.50,504.69 125.90,505.82 126.30,505.58 126.70,506.66 127.10,503.89 127.50,504.38 127.90,505.17 128.30,504.83 128.70,503.42 129.10,505.92 129.50,505.58 129.90,504.41 130.30,505.35 130.70,504.41 131.10,503.55 131.50,506.37 131.90,506.11 132.30,506.05 132.70,504.49 133.10,504.08 133.50,504.31 133.90,503.60 134.30,506.00 134.70,505.79 135.10,504.20 135.50,504.19 135.90,506.45 136.30,503.95 136.70,504.28 137.10,503.94 137.50,505.61 137.90,505.13 138.30,503.84 138.70,503.81 139.10,504.92 139.50,504.09 139.90,503.57 140.30,506.49 140.70,507.21 141.10,506.31 141.50,508.92 141.90,508.56 142.30,507.93 142.70,509.29 143.10,507.34 143.50,509.41 143.90,507.88 144.30,508.77 144.70,508.80 145.10,507.84 145.50,509.07 145.90,508.44 146.30,506.91 146.70,506.16 147.10,508.49 147.50,508.60 147.90,507.50 148.30,509.00 148.70,507.05 149.10,508.88 149.50,508.03 149.90,508.60 150.30,509.87 150.70,510.13 151.10,510.17 151.50,509.07 151.90,509.03 152.30,506.57 152.70,507.28 153.10,509.39 153.50,507.58 153.90,508.87 154.30,508.28 154.70,507.34 155.10,506.69 155.50,506.29 155.90,507.97 156.30,508.66 156.70,508.53 157.10,508.79 157.50,507.37 157.90,508.04 158.30,507.42 158.70,509.12 159.10,507.30 159.50,506.30 159.90,508.72 160.30,507.79 160.70,509.16 161.10,509.87 161.50,508.71 161.90,509.27 162.30,507.51 162.70,507.70 163.10,507.38 163.50,506.32 163.90,509.22 164.30,509.66 164.70,509.96 165.10,508.57 165.50,507.05 165.90,507.22 166.30,507.72 166.70,506.77 167.10,508.23 167.50,509.41 167.90,507.84 168.30,509.64 168.70,509.30 169.10,509.91 169.50,509.58 169.90,509.85 170.30,508.31 170.70,509.38 171.10,507.96 171.50,506.93 171.90,508.36 172.30,509.41 172.70,507.74 173.10,507.21 173.50,506.57 173.90,507.57 174.30,507.68 174.70,506.74 175.10,507.18 175.50,506.25 175.90,508.42 176.30,507.19 176.70,507.43 177.10,508.04 177.50,509.72 177.90,508.47 178.30,508.95 178.70,507.88 179.10,507.99 179.50,508.00 179.90,509.55 180.30,509.62 180.70,508.00 181.10,507.42 181.50,506.25 181.90,506.69 182.30,508.50 182.70,508.29 183.10,508.08 183.50,507.02 183.90,508.21 184.30,506.64 184.70,507.83 185.10,508.36 185.50,508.18 185.90,508.57 186.30,506.45 186.70,509.29 187.10,508.64 187.50,509.61 187.90,507.76 188.30,509.19 188.80,528.14" fill="none" stroke="#e0a820" stroke-width="0.95" stroke-linejoin="round" />
<polyline points="103.60,528.14 103.90,512.08 104.25,510.96 104.60,510.00 104.95,509.15 105.30,510.56 105.65,511.41 106.00,511.15 106.35,508.67 106.70,511.61 107.05,512.85 107.40,508.86 107.75,510.35 108.10,512.15 108.45,512.32 108.80,508.78 109.15,509.09 109.50,512.35 109.85,509.80 110.20,511.71 110.55,510.81 110.90,509.97 111.25,512.50 111.60,508.59 111.95,511.02 112.30,512.17 112.65,509.29 113.00,512.16 113.35,512.78 113.70,509.95 114.05,510.52 114.40,508.55 114.75,508.87 115.10,511.66 115.45,512.69 115.80,510.17 116.15,510.54 116.50,511.38 116.85,508.56 117.20,511.62 117.55,509.88 117.90,512.38 118.25,508.63 118.60,508.14 118.95,509.65 119.30,511.20 119.65,509.45 120.00,508.43 120.35,508.84 120.70,512.43 121.05,510.61 121.40,512.14 121.75,510.38 122.10,508.31 122.45,508.50 122.80,511.42 123.15,510.29 123.50,511.28 123.85,512.08 124.20,509.45 124.55,509.11 124.90,511.07 125.25,510.87 125.60,509.55 125.95,509.27 126.30,510.49 126.65,512.23 127.00,512.51 127.35,512.19 127.70,509.07 128.05,510.31 128.40,509.74 128.75,511.00 129.10,511.10 129.45,512.02 129.80,508.36 130.15,509.73 130.50,512.11 130.85,509.64 131.20,509.89 131.55,509.84 131.90,509.10 132.25,509.79 132.60,508.59 132.95,508.04 133.30,510.63 133.65,509.75 134.00,510.95 134.35,510.90 134.70,511.11 135.05,509.81 135.40,511.06 135.75,511.19 136.10,508.87 136.45,508.86 136.80,509.44 137.15,508.71 137.50,510.80 137.85,509.80 138.20,511.54 138.55,511.41 138.90,512.41 139.25,509.22 139.60,508.33 139.95,511.15 140.30,511.08 140.65,512.30 141.00,512.30 141.35,509.97 141.70,508.54 142.05,512.20 142.40,511.76 142.75,509.34 143.10,511.61 143.45,508.77 143.80,510.96 144.15,510.61 144.50,511.85 144.85,511.56 145.20,510.90 145.55,511.52 145.90,509.46 146.25,512.55 146.60,509.99 146.95,508.96 147.30,511.10 147.65,511.95 148.00,512.37 148.35,512.61 148.70,509.27 149.05,509.83 149.40,512.65 149.75,510.87 150.10,510.01 150.45,511.24 150.80,512.70 151.15,511.03 151.50,511.18 151.85,508.28 152.20,510.88 152.55,508.49 152.90,508.50 153.25,509.89 153.60,512.14 153.95,509.15 154.30,512.23 154.65,510.34 155.00,512.32 155.35,512.54 155.70,511.06 156.05,512.11 156.40,508.28 156.75,509.85 157.10,508.50 157.45,508.09 157.80,508.98 158.15,509.60 158.50,510.48 158.85,509.13 159.20,509.50 159.55,511.95 159.90,510.44 160.25,510.84 160.60,510.40 160.95,509.42 161.30,509.44 161.65,510.00 162.00,509.03 162.35,508.76 162.70,512.18 163.05,512.28 163.40,512.75 163.75,512.26 164.10,508.45 164.45,511.13 164.80,510.79 165.15,510.63 165.50,510.15 165.85,511.44 166.20,509.22 166.55,511.10 166.90,508.87 167.25,508.85 167.60,512.62 167.95,510.43 168.30,512.35 168.65,508.82 169.00,512.30 169.35,511.71 169.70,509.29 170.05,509.89 170.40,509.59 170.75,510.76 171.10,510.37 171.45,511.82 171.80,510.75 172.15,511.61 172.50,509.72 172.85,512.21 173.20,512.32 173.55,512.04 173.90,510.44 174.25,510.05 174.60,512.73 174.95,508.37 175.30,508.65 175.65,510.82 176.00,512.08 176.35,509.06 176.70,508.05 177.05,511.71 177.40,509.35 177.75,508.83 178.10,508.21 178.45,511.58 178.80,512.33 179.15,512.20 179.50,511.87 179.85,508.69 180.20,508.33 180.55,510.34 180.90,512.18 181.25,511.30 181.60,511.74 181.95,509.86 182.30,509.34 182.65,509.02 183.00,510.59 183.35,510.65 183.70,510.60 184.05,511.06 184.40,510.71 184.75,509.59 185.10,509.35 185.45,511.14 185.80,510.19 186.15,512.08 186.50,512.74 186.85,511.19 187.20,511.17 187.55,512.71 187.90,512.64 188.25,511.00 188.80,528.14" fill="none" stroke="#6aa030" stroke-width="0.95" stroke-linejoin="round" />
<polyline points="103.60,528.14 103.90,507.21 104.25,507.52 104.60,511.70 104.95,510.64 105.30,510.27 105.65,510.53 106.00,511.45 106.35,509.21 106.70,507.71 107.05,509.91 107.40,511.19 107.75,511.68 108.10,512.19 108.45,508.39 108.80,510.75 109.15,508.46 109.50,507.88 109.85,511.46 110.20,511.28 110.55,510.61 110.90,508.21 111.25,508.14 111.60,510.36 111.95,509.81 112.30,510.26 112.65,509.70 113.00,507.99 113.35,510.56 113.70,507.99 114.05,507.17 114.40,508.73 114.75,507.05 115.10,506.99 115.45,510.92 115.80,507.10 116.15,510.78 116.50,508.05 116.85,511.28 117.20,510.67 117.55,509.90 117.90,507.78 118.25,508.38 118.60,510.89 118.95,507.58 119.30,507.41 119.65,509.22 120.00,511.76 120.35,510.81 120.70,510.68 121.05,510.02 121.40,507.26 121.75,508.77 122.10,507.77 122.45,511.51 122.80,510.99 123.15,508.44 123.50,510.20 123.85,510.95 124.20,511.87 124.55,512.03 124.90,510.18 125.25,509.31 125.60,509.98 125.95,509.20 126.30,510.53 126.65,512.07 127.00,508.84 127.35,510.26 127.70,509.60 128.05,510.12 128.40,510.73 128.75,511.91 129.10,510.77 129.45,510.65 129.80,511.57 130.15,512.11 130.50,509.84 130.85,511.98 131.20,507.78 131.55,510.03 131.90,509.82 132.25,509.38 132.60,511.91 132.95,511.77 133.30,508.24 133.65,509.07 134.00,509.47 134.35,510.28 134.70,508.27 135.05,509.34 135.40,507.97 135.75,507.60 136.10,507.27 136.45,508.10 136.80,508.45 137.15,509.57 137.50,509.32 137.85,509.06 138.20,509.31 138.55,507.82 138.90,507.48 139.25,511.58 139.60,508.40 139.95,508.77 140.30,508.90 140.65,507.33 141.00,511.58 141.35,509.82 141.70,510.15 142.05,507.24 142.40,510.98 142.75,509.31 143.10,511.29 143.45,508.36 143.80,509.42 144.15,508.27 144.50,510.35 144.85,507.60 145.20,511.82 145.55,511.13 145.90,508.45 146.25,507.43 146.60,507.85 146.95,510.47 147.30,511.73 147.65,508.63 148.00,508.21 148.35,511.61 148.70,507.46 149.05,509.14 149.40,511.84 149.75,509.82 150.10,510.35 150.45,511.60 150.80,507.71 151.15,507.07 151.50,511.17 151.85,509.93 152.20,510.69 152.55,508.72 152.90,511.41 153.25,510.53 153.60,510.05 153.95,509.68 154.30,509.83 154.65,509.02 155.00,507.17 155.35,507.03 155.70,507.14 156.05,507.56 156.40,510.68 156.75,510.91 157.10,509.83 157.45,508.78 157.80,508.86 158.15,510.19 158.50,507.03 158.85,510.20 159.20,512.02 159.55,511.84 159.90,511.21 160.25,508.47 160.60,507.63 160.95,511.65 161.30,511.05 161.65,510.96 162.00,508.16 162.35,507.31 162.70,510.48 163.05,511.62 163.40,507.30 163.75,506.84 164.10,508.10 164.45,509.48 164.80,508.21 165.15,507.98 165.50,509.28 165.85,510.63 166.20,509.47 166.55,508.65 166.90,510.30 167.25,508.85 167.60,511.23 167.95,507.24 168.30,510.74 168.65,511.01 169.00,507.27 169.35,506.95 169.70,507.04 170.05,507.48 170.40,507.49 170.75,507.63 171.10,508.95 171.45,511.61 171.80,508.50 172.15,507.66 172.50,507.56 172.85,511.63 173.20,511.95 173.55,508.54 173.90,509.45 174.25,507.46 174.60,506.76 174.95,509.48 175.30,508.58 175.65,508.54 176.00,508.39 176.35,510.05 176.70,508.82 177.05,511.63 177.40,507.64 177.75,508.15 178.10,507.79 178.45,509.51 178.80,511.00 179.15,509.88 179.50,508.59 179.85,509.14 180.20,511.46 180.55,512.23 180.90,510.28 181.25,510.87 181.60,511.02 181.95,511.06 182.30,510.07 182.65,508.54 183.00,507.26 183.35,508.35 183.70,511.83 184.05,507.83 184.40,508.76 184.75,508.22 185.10,508.77 185.45,510.16 185.80,510.37 186.15,511.77 186.50,508.87 186.85,511.71 187.20,508.77 187.55,507.30 187.90,508.40 188.25,508.83 188.80,528.14" fill="none" stroke="#a0a828" stroke-width="0.95" stroke-linejoin="round" />
<polyline points="103.60,528.14 103.90,517.29 104.40,516.88 104.90,517.01 105.40,516.75 105.90,517.55 106.40,518.53 106.90,517.83 107.40,517.58 107.90,517.13 108.40,517.41 108.90,517.91 109.40,518.66 109.90,517.51 110.40,517.51 110.90,516.90 111.40,517.38 111.90,517.09 112.40,517.13 112.90,516.78 113.40,517.56 113.90,517.07 114.40,517.75 114.90,518.60 115.40,518.33 115.90,518.21 116.40,517.10 116.90,517.77 117.40,518.17 117.90,517.59 118.40,518.41 118.90,518.31 119.40,518.13 119.90,518.52 120.40,517.86 120.90,517.95 121.40,517.34 121.90,517.93 122.40,517.05 122.90,518.08 123.40,517.83 123.90,518.27 124.40,518.75 124.90,518.42 125.40,517.33 125.90,518.01 126.40,517.88 126.90,517.79 127.40,518.19 127.90,517.86 128.40,518.54 128.90,518.27 129.40,518.30 129.90,517.43 130.40,517.24 130.90,517.30 131.40,517.49 131.90,517.10 132.40,517.19 132.90,518.36 133.40,518.58 133.90,517.62 134.40,517.18 134.90,516.80 135.40,517.04 135.90,518.14 136.40,517.79 136.90,517.59 137.40,517.56 137.90,518.34 138.40,517.18 138.90,517.60 139.40,518.13 139.90,517.10 140.40,517.78 140.90,518.51 141.40,517.73 141.90,518.18 142.40,518.38 142.90,518.30 143.40,517.77 143.90,518.09 144.40,517.61 144.90,517.07 145.40,516.77 145.90,516.84 146.40,516.81 146.90,517.92 147.40,517.30 147.90,518.33 148.40,517.82 148.90,518.51 149.40,518.68 149.90,517.32 150.40,518.28 150.90,517.58 151.40,517.69 151.90,518.60 152.40,517.55 152.90,518.46 153.40,517.35 153.90,517.14 154.40,517.61 154.90,517.83 155.40,518.60 155.90,517.71 156.40,518.54 156.90,517.98 157.40,517.15 157.90,517.31 158.40,518.29 158.90,517.58 159.40,517.40 159.90,517.96 160.40,517.40 160.90,517.55 161.40,517.87 161.90,517.78 162.40,518.17 162.90,518.27 163.40,517.29 163.90,517.90 164.40,517.38 164.90,517.90 165.40,518.35 165.90,518.79 166.40,517.33 166.90,517.24 167.40,516.83 167.90,517.36 168.40,518.40 168.90,518.54 169.40,518.77 169.90,517.91 170.40,517.63 170.90,516.99 171.40,517.90 171.90,518.27 172.40,518.41 172.90,518.57 173.40,518.82 173.90,518.12 174.40,518.03 174.90,518.09 175.40,517.14 175.90,517.91 176.40,517.29 176.90,517.59 177.40,518.40 177.90,518.76 178.40,517.91 178.90,517.21 179.40,518.37 179.90,517.64 180.40,518.20 180.90,517.61 181.40,517.19 181.90,517.24 182.40,518.06 182.90,518.45 183.40,517.22 183.90,516.93 184.40,516.84 184.90,517.44 185.40,518.44 185.90,518.21 186.40,517.24 186.90,518.35 187.40,518.31 187.90,518.71 188.40,517.44 188.80,528.14" fill="none" stroke="#1f6ee8" stroke-width="1.3" stroke-linejoin="round" />
<polyline points="41.00,528.14 103.40,528.14 103.40,465.40 192.20,465.40 192.20,528.14 224.00,528.14" fill="none" stroke="#f45656" stroke-width="0.95" stroke-linejoin="round" stroke-dasharray="2.6,2.2" stroke-linecap="butt"/>
<rect x="41.00" y="433.40" width="183.00" height="95.10" fill="none" stroke="#858585" stroke-width="1.35"/>
<line x1="41.00" y1="528.50" x2="43.50" y2="528.50" stroke="#444" stroke-width="0.6" />
<text transform="translate(38.70,530.30) scale(0.86,1)" x="0" y="0" font-size="6.9" text-anchor="end" fill="#111">0</text>
<line x1="41.00" y1="516.61" x2="42.50" y2="516.61" stroke="#444" stroke-width="0.6" />
<line x1="41.00" y1="504.73" x2="43.50" y2="504.73" stroke="#444" stroke-width="0.6" />
<text transform="translate(38.70,506.53) scale(0.86,1)" x="0" y="0" font-size="6.9" text-anchor="end" fill="#111">20</text>
<line x1="41.00" y1="492.84" x2="42.50" y2="492.84" stroke="#444" stroke-width="0.6" />
<line x1="41.00" y1="480.95" x2="43.50" y2="480.95" stroke="#444" stroke-width="0.6" />
<text transform="translate(38.70,482.75) scale(0.86,1)" x="0" y="0" font-size="6.9" text-anchor="end" fill="#111">40</text>
<line x1="41.00" y1="469.06" x2="42.50" y2="469.06" stroke="#444" stroke-width="0.6" />
<line x1="41.00" y1="457.17" x2="43.50" y2="457.17" stroke="#444" stroke-width="0.6" />
<text transform="translate(38.70,458.97) scale(0.86,1)" x="0" y="0" font-size="6.9" text-anchor="end" fill="#111">60</text>
<line x1="41.00" y1="445.29" x2="42.50" y2="445.29" stroke="#444" stroke-width="0.6" />
<line x1="41.00" y1="433.40" x2="43.50" y2="433.40" stroke="#444" stroke-width="0.6" />
<text transform="translate(38.70,435.20) scale(0.86,1)" x="0" y="0" font-size="6.9" text-anchor="end" fill="#111">80</text>
<line x1="41.60" y1="528.50" x2="41.60" y2="526.00" stroke="#444" stroke-width="0.6" />
<text transform="translate(41.60,536.40) scale(0.86,1)" x="0" y="0" font-size="6.9" text-anchor="middle" fill="#111">0</text>
<line x1="52.65" y1="528.50" x2="52.65" y2="527.00" stroke="#444" stroke-width="0.6" />
<line x1="63.70" y1="528.50" x2="63.70" y2="526.00" stroke="#444" stroke-width="0.6" />
<text transform="translate(63.70,536.40) scale(0.86,1)" x="0" y="0" font-size="6.9" text-anchor="middle" fill="#111">20</text>
<line x1="74.75" y1="528.50" x2="74.75" y2="527.00" stroke="#444" stroke-width="0.6" />
<line x1="85.80" y1="528.50" x2="85.80" y2="526.00" stroke="#444" stroke-width="0.6" />
<text transform="translate(85.80,536.40) scale(0.86,1)" x="0" y="0" font-size="6.9" text-anchor="middle" fill="#111">40</text>
<line x1="96.85" y1="528.50" x2="96.85" y2="527.00" stroke="#444" stroke-width="0.6" />
<line x1="107.90" y1="528.50" x2="107.90" y2="526.00" stroke="#444" stroke-width="0.6" />
<text transform="translate(107.90,536.40) scale(0.86,1)" x="0" y="0" font-size="6.9" text-anchor="middle" fill="#111">60</text>
<line x1="118.95" y1="528.50" x2="118.95" y2="527.00" stroke="#444" stroke-width="0.6" />
<line x1="130.00" y1="528.50" x2="130.00" y2="526.00" stroke="#444" stroke-width="0.6" />
<text transform="translate(130.00,536.40) scale(0.86,1)" x="0" y="0" font-size="6.9" text-anchor="middle" fill="#111">80</text>
<line x1="141.05" y1="528.50" x2="141.05" y2="527.00" stroke="#444" stroke-width="0.6" />
<line x1="152.10" y1="528.50" x2="152.10" y2="526.00" stroke="#444" stroke-width="0.6" />
<text transform="translate(152.10,536.40) scale(0.86,1)" x="0" y="0" font-size="6.9" text-anchor="middle" fill="#111">100</text>
<line x1="163.15" y1="528.50" x2="163.15" y2="527.00" stroke="#444" stroke-width="0.6" />
<line x1="174.20" y1="528.50" x2="174.20" y2="526.00" stroke="#444" stroke-width="0.6" />
<text transform="translate(174.20,536.40) scale(0.86,1)" x="0" y="0" font-size="6.9" text-anchor="middle" fill="#111">120</text>
<line x1="185.25" y1="528.50" x2="185.25" y2="527.00" stroke="#444" stroke-width="0.6" />
<line x1="196.30" y1="528.50" x2="196.30" y2="526.00" stroke="#444" stroke-width="0.6" />
<text transform="translate(196.30,536.40) scale(0.86,1)" x="0" y="0" font-size="6.9" text-anchor="middle" fill="#111">140</text>
<line x1="207.35" y1="528.50" x2="207.35" y2="527.00" stroke="#444" stroke-width="0.6" />
<line x1="218.40" y1="528.50" x2="218.40" y2="526.00" stroke="#444" stroke-width="0.6" />
<text transform="translate(218.40,536.40) scale(0.86,1)" x="0" y="0" font-size="6.9" text-anchor="middle" fill="#111">160</text>
<line x1="224.00" y1="528.50" x2="226.50" y2="528.50" stroke="#444" stroke-width="0.6" />
<text transform="translate(226.80,530.40) scale(0.86,1)" x="0" y="0" font-size="6.9" text-anchor="start" fill="#111">0</text>
<line x1="224.00" y1="517.30" x2="225.50" y2="517.30" stroke="#444" stroke-width="0.6" />
<line x1="224.00" y1="506.10" x2="226.50" y2="506.10" stroke="#444" stroke-width="0.6" />
<text transform="translate(226.80,508.00) scale(0.86,1)" x="0" y="0" font-size="6.9" text-anchor="start" fill="#111">1</text>
<line x1="224.00" y1="494.90" x2="225.50" y2="494.90" stroke="#444" stroke-width="0.6" />
<line x1="224.00" y1="483.70" x2="226.50" y2="483.70" stroke="#444" stroke-width="0.6" />
<text transform="translate(226.80,485.60) scale(0.86,1)" x="0" y="0" font-size="6.9" text-anchor="start" fill="#111">2</text>
<line x1="224.00" y1="472.50" x2="225.50" y2="472.50" stroke="#444" stroke-width="0.6" />
<line x1="224.00" y1="461.30" x2="226.50" y2="461.30" stroke="#444" stroke-width="0.6" />
<text transform="translate(226.80,463.20) scale(0.86,1)" x="0" y="0" font-size="6.9" text-anchor="start" fill="#111">3</text>
<line x1="224.00" y1="450.10" x2="225.50" y2="450.10" stroke="#444" stroke-width="0.6" />
<line x1="224.00" y1="438.90" x2="226.50" y2="438.90" stroke="#444" stroke-width="0.6" />
<text transform="translate(226.80,440.80) scale(0.86,1)" x="0" y="0" font-size="6.9" text-anchor="start" fill="#111">4</text>
<text x="7.50" y="426.80" font-size="9.9" text-anchor="start" font-weight="normal" fill="#111" >(d)</text>
<text x="26.5" y="485.90" font-size="7.18" font-weight="bold" text-anchor="middle" fill="#111" stroke="#111" stroke-width="0.15" transform="rotate(-90 26.5 485.90)" dominant-baseline="central">Harmonics Power (%)</text>
<text x="235.2" y="485.50" font-size="7.22" font-weight="bold" text-anchor="middle" fill="#111" stroke="#111" stroke-width="0.15" transform="rotate(-90 235.2 485.50)" dominant-baseline="central">LF RF Power (kW)</text>
<text x="130.40" y="545.20" font-size="6.9" text-anchor="middle" font-weight="bold" fill="#111" stroke="#111" stroke-width="0.2">Time (sec)</text>
<line x1="250.50" y1="300.80" x2="266.30" y2="300.80" stroke="#8a8a8a" stroke-width="1.2" />
<text x="270.80" y="303.45" font-size="7.3" text-anchor="start" font-weight="normal" fill="#1a1a1a" stroke="#1a1a1a" stroke-width="0.06">Bias RF_FWD_2</text>
<line x1="250.50" y1="317.17" x2="266.30" y2="317.17" stroke="#f06868" stroke-width="1.2" />
<text x="270.80" y="319.82" font-size="7.3" text-anchor="start" font-weight="normal" fill="#1a1a1a" stroke="#1a1a1a" stroke-width="0.06">Bias RF_FWD_3</text>
<line x1="250.50" y1="333.54" x2="266.30" y2="333.54" stroke="#4a96e8" stroke-width="1.2" />
<text x="270.80" y="336.19" font-size="7.3" text-anchor="start" font-weight="normal" fill="#1a1a1a" stroke="#1a1a1a" stroke-width="0.06">Bias RF_FWD_4</text>
<line x1="250.50" y1="349.91" x2="266.30" y2="349.91" stroke="#2ab48c" stroke-width="1.2" />
<text x="270.80" y="352.56" font-size="7.3" text-anchor="start" font-weight="normal" fill="#1a1a1a" stroke="#1a1a1a" stroke-width="0.06">Bias RF_FWD_5</text>
<line x1="250.50" y1="366.28" x2="266.30" y2="366.28" stroke="#dcaaf2" stroke-width="1.2" />
<text x="270.80" y="368.93" font-size="7.3" text-anchor="start" font-weight="normal" fill="#1a1a1a" stroke="#1a1a1a" stroke-width="0.06">Bias RF_FWD_6</text>
<line x1="250.50" y1="382.65" x2="266.30" y2="382.65" stroke="#f4ba50" stroke-width="1.2" />
<text x="270.80" y="385.30" font-size="7.3" text-anchor="start" font-weight="normal" fill="#1a1a1a" stroke="#1a1a1a" stroke-width="0.06">Bias RF_FWD_7</text>
<line x1="250.50" y1="399.02" x2="266.30" y2="399.02" stroke="#30d0ea" stroke-width="1.2" />
<text x="270.80" y="401.67" font-size="7.3" text-anchor="start" font-weight="normal" fill="#1a1a1a" stroke="#1a1a1a" stroke-width="0.06">Bias RF_FWD_8</text>
<line x1="250.50" y1="415.39" x2="266.30" y2="415.39" stroke="#b0606e" stroke-width="1.2" />
<text x="270.80" y="418.04" font-size="7.3" text-anchor="start" font-weight="normal" fill="#1a1a1a" stroke="#1a1a1a" stroke-width="0.06">Bias RF_FWD_9</text>
<line x1="250.50" y1="431.76" x2="266.30" y2="431.76" stroke="#bab24a" stroke-width="1.2" />
<text x="270.80" y="434.41" font-size="7.3" text-anchor="start" font-weight="normal" fill="#1a1a1a" stroke="#1a1a1a" stroke-width="0.06">Bias RF_FWD_10</text>
<line x1="250.50" y1="457.90" x2="266.30" y2="457.90" stroke="#bb4a78" stroke-width="1.2" stroke-dasharray="3.9,3.0"/>
<text x="270.80" y="460.55" font-size="7.3" text-anchor="start" font-weight="normal" fill="#1a1a1a" stroke="#1a1a1a" stroke-width="0.06">Top 2 MHz</text>
<line x1="250.50" y1="474.30" x2="266.30" y2="474.30" stroke="#e0b058" stroke-width="1.2" stroke-dasharray="3.9,3.0"/>
<text x="270.80" y="476.95" font-size="7.3" text-anchor="start" font-weight="normal" fill="#1a1a1a" stroke="#1a1a1a" stroke-width="0.06">Side 2 MHz</text>
<line x1="250.50" y1="490.70" x2="266.30" y2="490.70" stroke="#f45656" stroke-width="1.2" stroke-dasharray="3.9,3.0"/>
<text x="270.80" y="493.35" font-size="7.3" text-anchor="start" font-weight="normal" fill="#1a1a1a" stroke="#1a1a1a" stroke-width="0.06">Bias 13.56 MHz</text>
</svg></body></html>
